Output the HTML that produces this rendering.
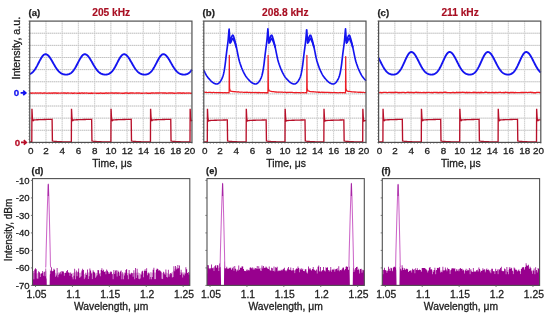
<!DOCTYPE html>
<html><head><meta charset="utf-8"><title>Figure</title>
<style>html,body{margin:0;padding:0;background:#fff;}body{width:550px;height:316px;overflow:hidden;}svg{display:block;}</style>
</head><body>
<svg width="550" height="316" viewBox="0 0 550 316">
<rect width="550" height="316" fill="#fff"/>
<line x1="45.97" y1="21.1" x2="45.97" y2="142.4" stroke="#ebebeb" stroke-width="1.3"/><line x1="45.97" y1="21.1" x2="45.97" y2="142.4" stroke="#d0d0d0" stroke-width="1" stroke-dasharray="1 1"/><line x1="62.19" y1="21.1" x2="62.19" y2="142.4" stroke="#ebebeb" stroke-width="1.3"/><line x1="62.19" y1="21.1" x2="62.19" y2="142.4" stroke="#d0d0d0" stroke-width="1" stroke-dasharray="1 1"/><line x1="78.41" y1="21.1" x2="78.41" y2="142.4" stroke="#ebebeb" stroke-width="1.3"/><line x1="78.41" y1="21.1" x2="78.41" y2="142.4" stroke="#d0d0d0" stroke-width="1" stroke-dasharray="1 1"/><line x1="94.63" y1="21.1" x2="94.63" y2="142.4" stroke="#ebebeb" stroke-width="1.3"/><line x1="94.63" y1="21.1" x2="94.63" y2="142.4" stroke="#d0d0d0" stroke-width="1" stroke-dasharray="1 1"/><line x1="110.85" y1="21.1" x2="110.85" y2="142.4" stroke="#ebebeb" stroke-width="1.3"/><line x1="110.85" y1="21.1" x2="110.85" y2="142.4" stroke="#d0d0d0" stroke-width="1" stroke-dasharray="1 1"/><line x1="127.07" y1="21.1" x2="127.07" y2="142.4" stroke="#ebebeb" stroke-width="1.3"/><line x1="127.07" y1="21.1" x2="127.07" y2="142.4" stroke="#d0d0d0" stroke-width="1" stroke-dasharray="1 1"/><line x1="143.29" y1="21.1" x2="143.29" y2="142.4" stroke="#ebebeb" stroke-width="1.3"/><line x1="143.29" y1="21.1" x2="143.29" y2="142.4" stroke="#d0d0d0" stroke-width="1" stroke-dasharray="1 1"/><line x1="159.51" y1="21.1" x2="159.51" y2="142.4" stroke="#ebebeb" stroke-width="1.3"/><line x1="159.51" y1="21.1" x2="159.51" y2="142.4" stroke="#d0d0d0" stroke-width="1" stroke-dasharray="1 1"/><line x1="175.73" y1="21.1" x2="175.73" y2="142.4" stroke="#ebebeb" stroke-width="1.3"/><line x1="175.73" y1="21.1" x2="175.73" y2="142.4" stroke="#d0d0d0" stroke-width="1" stroke-dasharray="1 1"/><line x1="29.75" y1="33.23" x2="191.95" y2="33.23" stroke="#eeeeee" stroke-width="1"/><line x1="29.75" y1="33.23" x2="191.95" y2="33.23" stroke="#b2b2b2" stroke-width="1" stroke-dasharray="1 1"/><line x1="29.75" y1="45.36" x2="191.95" y2="45.36" stroke="#eeeeee" stroke-width="1"/><line x1="29.75" y1="45.36" x2="191.95" y2="45.36" stroke="#b2b2b2" stroke-width="1" stroke-dasharray="1 1"/><line x1="29.75" y1="57.49" x2="191.95" y2="57.49" stroke="#eeeeee" stroke-width="1"/><line x1="29.75" y1="57.49" x2="191.95" y2="57.49" stroke="#b2b2b2" stroke-width="1" stroke-dasharray="1 1"/><line x1="29.75" y1="69.62" x2="191.95" y2="69.62" stroke="#eeeeee" stroke-width="1"/><line x1="29.75" y1="69.62" x2="191.95" y2="69.62" stroke="#b2b2b2" stroke-width="1" stroke-dasharray="1 1"/><line x1="29.75" y1="81.75" x2="191.95" y2="81.75" stroke="#eeeeee" stroke-width="1"/><line x1="29.75" y1="81.75" x2="191.95" y2="81.75" stroke="#b2b2b2" stroke-width="1" stroke-dasharray="1 1"/><line x1="29.75" y1="93.88" x2="191.95" y2="93.88" stroke="#eeeeee" stroke-width="1"/><line x1="29.75" y1="93.88" x2="191.95" y2="93.88" stroke="#b2b2b2" stroke-width="1" stroke-dasharray="1 1"/><line x1="29.75" y1="106.01" x2="191.95" y2="106.01" stroke="#eeeeee" stroke-width="1"/><line x1="29.75" y1="106.01" x2="191.95" y2="106.01" stroke="#b2b2b2" stroke-width="1" stroke-dasharray="1 1"/><line x1="29.75" y1="118.14" x2="191.95" y2="118.14" stroke="#eeeeee" stroke-width="1"/><line x1="29.75" y1="118.14" x2="191.95" y2="118.14" stroke="#b2b2b2" stroke-width="1" stroke-dasharray="1 1"/><line x1="29.75" y1="130.27" x2="191.95" y2="130.27" stroke="#eeeeee" stroke-width="1"/><line x1="29.75" y1="130.27" x2="191.95" y2="130.27" stroke="#b2b2b2" stroke-width="1" stroke-dasharray="1 1"/>
<path d="M29.75 142.4v1.3M32.99 142.4v1.3M36.24 142.4v1.3M39.48 142.4v1.3M42.73 142.4v1.3M45.97 142.4v1.3M49.21 142.4v1.3M52.46 142.4v1.3M55.7 142.4v1.3M58.95 142.4v1.3M62.19 142.4v1.3M65.43 142.4v1.3M68.68 142.4v1.3M71.92 142.4v1.3M75.17 142.4v1.3M78.41 142.4v1.3M81.65 142.4v1.3M84.9 142.4v1.3M88.14 142.4v1.3M91.39 142.4v1.3M94.63 142.4v1.3M97.87 142.4v1.3M101.12 142.4v1.3M104.36 142.4v1.3M107.61 142.4v1.3M110.85 142.4v1.3M114.09 142.4v1.3M117.34 142.4v1.3M120.58 142.4v1.3M123.83 142.4v1.3M127.07 142.4v1.3M130.31 142.4v1.3M133.56 142.4v1.3M136.8 142.4v1.3M140.05 142.4v1.3M143.29 142.4v1.3M146.53 142.4v1.3M149.78 142.4v1.3M153.02 142.4v1.3M156.27 142.4v1.3M159.51 142.4v1.3M162.75 142.4v1.3M166 142.4v1.3M169.24 142.4v1.3M172.49 142.4v1.3M175.73 142.4v1.3M178.97 142.4v1.3M182.22 142.4v1.3M185.46 142.4v1.3M188.71 142.4v1.3M191.95 142.4v1.3M29.75 21.1h-1.3M29.75 24.13h-1.3M29.75 27.17h-1.3M29.75 30.2h-1.3M29.75 33.23h-1.3M29.75 36.26h-1.3M29.75 39.3h-1.3M29.75 42.33h-1.3M29.75 45.36h-1.3M29.75 48.39h-1.3M29.75 51.43h-1.3M29.75 54.46h-1.3M29.75 57.49h-1.3M29.75 60.52h-1.3M29.75 63.56h-1.3M29.75 66.59h-1.3M29.75 69.62h-1.3M29.75 72.65h-1.3M29.75 75.69h-1.3M29.75 78.72h-1.3M29.75 81.75h-1.3M29.75 84.78h-1.3M29.75 87.81h-1.3M29.75 90.85h-1.3M29.75 93.88h-1.3M29.75 96.91h-1.3M29.75 99.94h-1.3M29.75 102.98h-1.3M29.75 106.01h-1.3M29.75 109.04h-1.3M29.75 112.08h-1.3M29.75 115.11h-1.3M29.75 118.14h-1.3M29.75 121.17h-1.3M29.75 124.21h-1.3M29.75 127.24h-1.3M29.75 130.27h-1.3M29.75 133.3h-1.3M29.75 136.34h-1.3M29.75 139.37h-1.3M29.75 142.4h-1.3" stroke="#777" stroke-width="0.8" fill="none"/>
<polyline points="29.75,74.06 30.16,73.9 30.56,73.7 30.97,73.47 31.37,73.21 31.78,72.92 32.18,72.6 32.59,72.23 32.99,71.84 33.4,71.4 33.8,70.92 34.21,70.41 34.62,69.86 35.02,69.27 35.43,68.65 35.83,68 36.24,67.31 36.64,66.59 37.05,65.86 37.45,65.1 37.86,64.32 38.27,63.54 38.67,62.75 39.08,61.96 39.48,61.18 39.89,60.41 40.29,59.66 40.7,58.94 41.1,58.24 41.51,57.59 41.91,56.98 42.32,56.41 42.73,55.91 43.13,55.46 43.54,55.07 43.94,54.75 44.35,54.5 44.75,54.33 45.16,54.23 45.56,54.2 45.97,54.24 46.38,54.35 46.78,54.51 47.19,54.73 47.59,55.02 48,55.35 48.4,55.74 48.81,56.19 49.21,56.67 49.62,57.2 50.02,57.77 50.43,58.38 50.84,59.01 51.24,59.67 51.65,60.35 52.05,61.05 52.46,61.76 52.86,62.47 53.27,63.19 53.67,63.9 54.08,64.61 54.49,65.31 54.89,65.99 55.3,66.66 55.7,67.31 56.11,67.93 56.51,68.53 56.92,69.1 57.32,69.65 57.73,70.16 58.14,70.64 58.54,71.1 58.95,71.52 59.35,71.91 59.76,72.26 60.16,72.59 60.57,72.89 60.97,73.16 61.38,73.4 61.78,73.61 62.19,73.8 62.6,73.97 63,74.12 63.41,74.24 63.81,74.34 64.22,74.43 64.62,74.49 65.03,74.55 65.43,74.58 65.84,74.6 66.25,74.6 66.65,74.58 67.06,74.55 67.46,74.49 67.87,74.42 68.27,74.32 68.68,74.2 69.08,74.05 69.49,73.88 69.89,73.68 70.3,73.45 70.71,73.19 71.11,72.9 71.52,72.57 71.92,72.2 72.33,71.8 72.73,71.36 73.14,70.88 73.54,70.37 73.95,69.81 74.35,69.22 74.76,68.6 75.17,67.94 75.57,67.25 75.98,66.53 76.38,65.79 76.79,65.03 77.19,64.26 77.6,63.48 78,62.69 78.41,61.9 78.82,61.12 79.22,60.35 79.63,59.6 80.03,58.88 80.44,58.19 80.84,57.54 81.25,56.93 81.65,56.37 82.06,55.87 82.47,55.42 82.87,55.04 83.28,54.73 83.68,54.49 84.09,54.32 84.49,54.22 84.9,54.2 85.3,54.25 85.71,54.36 86.11,54.53 86.52,54.75 86.93,55.04 87.33,55.38 87.74,55.78 88.14,56.22 88.55,56.72 88.95,57.25 89.36,57.82 89.76,58.43 90.17,59.07 90.58,59.73 90.98,60.41 91.39,61.11 91.79,61.81 92.2,62.53 92.6,63.25 93.01,63.96 93.41,64.67 93.82,65.36 94.22,66.05 94.63,66.71 95.04,67.36 95.44,67.98 95.85,68.58 96.25,69.15 96.66,69.69 97.06,70.2 97.47,70.68 97.87,71.13 98.28,71.55 98.68,71.94 99.09,72.29 99.5,72.62 99.9,72.91 100.31,73.18 100.71,73.42 101.12,73.63 101.52,73.82 101.93,73.98 102.33,74.13 102.74,74.25 103.15,74.35 103.55,74.43 103.96,74.5 104.36,74.55 104.77,74.58 105.17,74.6 105.58,74.6 105.98,74.58 106.39,74.54 106.79,74.49 107.2,74.41 107.61,74.31 108.01,74.19 108.42,74.04 108.82,73.86 109.23,73.66 109.63,73.43 110.04,73.17 110.44,72.87 110.85,72.54 111.26,72.17 111.66,71.77 112.07,71.32 112.47,70.84 112.88,70.32 113.28,69.77 113.69,69.17 114.09,68.54 114.5,67.88 114.91,67.19 115.31,66.47 115.72,65.73 116.12,64.97 116.53,64.2 116.93,63.41 117.34,62.62 117.74,61.83 118.15,61.05 118.55,60.29 118.96,59.54 119.37,58.82 119.77,58.13 120.18,57.48 120.58,56.88 120.99,56.33 121.39,55.83 121.8,55.39 122.2,55.01 122.61,54.71 123.02,54.47 123.42,54.31 123.83,54.22 124.23,54.2 124.64,54.25 125.04,54.37 125.45,54.54 125.85,54.78 126.26,55.07 126.66,55.41 127.07,55.81 127.48,56.26 127.88,56.76 128.29,57.3 128.69,57.87 129.1,58.48 129.5,59.12 129.91,59.78 130.31,60.47 130.72,61.16 131.12,61.87 131.53,62.59 131.94,63.3 132.34,64.02 132.75,64.73 133.15,65.42 133.56,66.1 133.96,66.77 134.37,67.41 134.77,68.03 135.18,68.63 135.59,69.2 135.99,69.73 136.4,70.24 136.8,70.72 137.21,71.17 137.61,71.58 138.02,71.97 138.42,72.32 138.83,72.64 139.24,72.93 139.64,73.2 140.05,73.44 140.45,73.65 140.86,73.83 141.26,74 141.67,74.14 142.07,74.26 142.48,74.36 142.88,74.44 143.29,74.5 143.7,74.55 144.1,74.58 144.51,74.6 144.91,74.6 145.32,74.58 145.72,74.54 146.13,74.48 146.53,74.4 146.94,74.3 147.34,74.17 147.75,74.03 148.16,73.85 148.56,73.64 148.97,73.41 149.37,73.14 149.78,72.84 150.18,72.51 150.59,72.14 150.99,71.73 151.4,71.29 151.81,70.8 152.21,70.28 152.62,69.72 153.02,69.12 153.43,68.49 153.83,67.83 154.24,67.13 154.64,66.41 155.05,65.67 155.45,64.91 155.86,64.13 156.27,63.34 156.67,62.56 157.08,61.77 157.48,60.99 157.89,60.22 158.29,59.48 158.7,58.76 159.1,58.08 159.51,57.43 159.92,56.83 160.32,56.28 160.73,55.79 161.13,55.35 161.54,54.99 161.94,54.68 162.35,54.45 162.75,54.3 163.16,54.21 163.56,54.21 163.97,54.26 164.38,54.38 164.78,54.56 165.19,54.8 165.59,55.09 166,55.45 166.4,55.85 166.81,56.3 167.21,56.8 167.62,57.34 168.03,57.92 168.43,58.53 168.84,59.17 169.24,59.84 169.65,60.52 170.05,61.22 170.46,61.93 170.86,62.65 171.27,63.36 171.67,64.08 172.08,64.78 172.49,65.48 172.89,66.16 173.3,66.82 173.7,67.46 174.11,68.08 174.51,68.68 174.92,69.24 175.32,69.78 175.73,70.28 176.14,70.76 176.54,71.2 176.95,71.62 177.35,72 177.76,72.35 178.16,72.67 178.57,72.96 178.97,73.22 179.38,73.45 179.78,73.66 180.19,73.85 180.6,74.01 181,74.15 181.41,74.27 181.81,74.37 182.22,74.45 182.62,74.51 183.03,74.55 183.43,74.58 183.84,74.6 184.25,74.6 184.65,74.58 185.06,74.54 185.46,74.47 185.87,74.39 186.27,74.29 186.68,74.16 187.08,74.01 187.49,73.83 187.89,73.63 188.3,73.39 188.71,73.12 189.11,72.82 189.52,72.48 189.92,72.11 190.33,71.7 190.73,71.25 191.14,70.76 191.54,70.23 191.95,69.67" fill="none" stroke="#1414f0" stroke-width="1.9" stroke-linejoin="round"/>
<polyline points="29.75,93.03 30.76,92.96 31.78,93.16 32.79,92.93 33.8,93.11 34.82,93.05 35.83,92.92 36.85,93.1 37.86,92.91 38.87,93.07 39.89,92.93 40.9,92.94 41.91,93.07 42.93,93.23 43.94,92.95 44.96,92.99 45.97,93.15 46.98,93.28 48,93.13 49.01,93.06 50.02,93.29 51.04,92.92 52.05,93.24 53.07,93.02 54.08,92.96 55.09,92.95 56.11,93.02 57.12,93.23 58.13,92.97 59.15,93.13 60.16,93.16 61.18,93.05 62.19,93.12 63.2,92.93 64.22,92.92 65.23,92.98 66.25,93.17 67.26,93.07 68.27,93.03 69.29,93.13 70.3,93.08 71.31,93.02 72.33,93.22 73.34,93.18 74.35,93 75.37,93.13 76.38,93.11 77.4,93.25 78.41,93.19 79.42,93.02 80.44,93.29 81.45,92.95 82.47,93.07 83.48,93.2 84.49,92.96 85.51,93.1 86.52,92.92 87.53,93.17 88.55,93.21 89.56,93.13 90.58,93.25 91.59,93.03 92.6,93.18 93.62,93.14 94.63,93.13 95.64,93.08 96.66,93.24 97.67,93.28 98.68,93.09 99.7,93.17 100.71,92.92 101.73,93.18 102.74,93.16 103.75,93.3 104.77,93.23 105.78,93.01 106.79,93.05 107.81,93.17 108.82,92.91 109.84,93.08 110.85,92.97 111.86,92.95 112.88,92.92 113.89,93.21 114.91,92.95 115.92,93 116.93,93.06 117.95,93.25 118.96,92.93 119.97,93.08 120.99,93.12 122,93.25 123.02,93.23 124.03,93.25 125.04,93.01 126.06,93.07 127.07,93.04 128.08,93.25 129.1,93.28 130.11,92.96 131.12,92.97 132.14,92.99 133.15,92.99 134.17,93.09 135.18,93.14 136.19,93.01 137.21,92.9 138.22,93.07 139.23,93.05 140.25,93.13 141.26,93.28 142.28,93.18 143.29,93.11 144.3,93.15 145.32,93.17 146.33,92.92 147.34,93.26 148.36,93.21 149.37,93.25 150.39,93.22 151.4,93.06 152.41,93.06 153.43,92.94 154.44,93.15 155.45,92.92 156.47,92.93 157.48,92.98 158.5,92.96 159.51,93.04 160.52,92.92 161.54,92.9 162.55,92.96 163.56,92.94 164.58,93.05 165.59,92.91 166.61,93.25 167.62,93.15 168.63,92.96 169.65,93 170.66,93.04 171.68,93.05 172.69,92.95 173.7,93.24 174.72,93.3 175.73,93.09 176.74,93.09 177.76,92.93 178.77,92.94 179.78,93.04 180.8,93.01 181.81,93.23 182.83,92.96 183.84,92.91 184.85,93.28 185.87,93.11 186.88,92.96 187.89,93.12 188.91,92.91 189.92,93.11 190.94,93.29 191.95,93.25" fill="none" stroke="#ec1c24" stroke-width="1.4"/>
<polyline points="29.75,141.94 30.75,141.95 31.75,141.96 31.8,141.96 31.95,108.8 32.4,117.5 32.9,121 33.9,119.99 34.9,119.88 35.9,119.82 36.9,119.77 37.9,119.73 38.9,119.7 39.9,119.66 40.9,119.63 41.9,119.6 42.9,119.57 43.9,119.54 44.9,119.51 45.9,119.48 46.9,119.45 47.9,119.42 48.9,119.39 49.9,119.37 50.9,119.34 51.9,119.31 52.1,119.3 52.4,141 53.4,141.19 54.4,141.32 55.4,141.42 56.4,141.51 57.4,141.59 58.4,141.65 59.4,141.7 60.4,141.75 61.4,141.79 62.4,141.82 63.4,141.85 64.4,141.87 65.4,141.89 66.4,141.91 67.4,141.92 68.4,141.93 69.4,141.94 70.4,141.95 71.35,141.96 71.5,108.8 71.95,117.5 72.45,121 73.45,119.99 74.45,119.88 75.45,119.82 76.45,119.77 77.45,119.73 78.45,119.7 79.45,119.66 80.45,119.63 81.45,119.6 82.45,119.57 83.45,119.54 84.45,119.51 85.45,119.48 86.45,119.45 87.45,119.42 88.45,119.39 89.45,119.37 90.45,119.34 91.45,119.31 91.65,119.3 91.95,141 92.95,141.19 93.95,141.32 94.95,141.42 95.95,141.51 96.95,141.59 97.95,141.65 98.95,141.7 99.95,141.75 100.95,141.79 101.95,141.82 102.95,141.85 103.95,141.87 104.95,141.89 105.95,141.91 106.95,141.92 107.95,141.93 108.95,141.94 109.95,141.95 110.9,141.96 111.05,108.8 111.5,117.5 112,121 113,119.99 114,119.88 115,119.82 116,119.77 117,119.73 118,119.7 119,119.66 120,119.63 121,119.6 122,119.57 123,119.54 124,119.51 125,119.48 126,119.45 127,119.42 128,119.39 129,119.37 130,119.34 131,119.31 131.2,119.3 131.5,141 132.5,141.19 133.5,141.32 134.5,141.42 135.5,141.51 136.5,141.59 137.5,141.65 138.5,141.7 139.5,141.75 140.5,141.79 141.5,141.82 142.5,141.85 143.5,141.87 144.5,141.89 145.5,141.91 146.5,141.92 147.5,141.93 148.5,141.94 149.5,141.95 150.45,141.96 150.6,108.8 151.05,117.5 151.55,121 152.55,119.99 153.55,119.88 154.55,119.82 155.55,119.77 156.55,119.73 157.55,119.7 158.55,119.66 159.55,119.63 160.55,119.6 161.55,119.57 162.55,119.54 163.55,119.51 164.55,119.48 165.55,119.45 166.55,119.42 167.55,119.39 168.55,119.37 169.55,119.34 170.55,119.31 170.75,119.3 171.05,141 172.05,141.19 173.05,141.32 174.05,141.42 175.05,141.51 176.05,141.59 177.05,141.65 178.05,141.7 179.05,141.75 180.05,141.79 181.05,141.82 182.05,141.85 183.05,141.87 184.05,141.89 185.05,141.91 186.05,141.92 187.05,141.93 188.05,141.94 189.05,141.95 190,141.96 190.15,108.8 190.6,117.5 191.1,121 191.95,119.84" fill="none" stroke="#b8102a" stroke-width="1.35" stroke-linejoin="miter" stroke-miterlimit="2"/>
<rect x="29.75" y="21.1" width="162.2" height="121.3" fill="none" stroke="#505050" stroke-width="1.2"/>
<g font-family="'Liberation Sans', Arial, sans-serif" font-size="9.9" fill="#1e1e1e" stroke="#1e1e1e" stroke-width="0.3"><text x="30.65" y="154.4" text-anchor="middle">0</text><text x="46.07" y="154.4" text-anchor="middle">2</text><text x="62.29" y="154.4" text-anchor="middle">4</text><text x="78.51" y="154.4" text-anchor="middle">6</text><text x="94.73" y="154.4" text-anchor="middle">8</text><text x="110.95" y="154.4" text-anchor="middle">10</text><text x="127.17" y="154.4" text-anchor="middle">12</text><text x="143.39" y="154.4" text-anchor="middle">14</text><text x="159.61" y="154.4" text-anchor="middle">16</text><text x="175.83" y="154.4" text-anchor="middle">18</text><text x="189.75" y="154.4" text-anchor="middle">20</text></g>
<text x="112.05" y="166.7" text-anchor="middle" font-family="'Liberation Sans', Arial, sans-serif" font-size="10.4" fill="#1e1e1e" stroke="#1e1e1e" stroke-width="0.3">Time, &#956;s</text>
<text x="28.55" y="16.35" font-family="'Liberation Sans', Arial, sans-serif" font-size="9.6" font-weight="bold" fill="#1e1e1e" stroke="#1e1e1e" stroke-width="0.25">(a)</text>
<text x="111.25" y="16.1" text-anchor="middle" font-family="'Liberation Sans', Arial, sans-serif" font-size="10.2" font-weight="bold" fill="#a80e22" stroke="#a80e22" stroke-width="0.15">205 kHz</text>
<line x1="220.02" y1="21.1" x2="220.02" y2="142.4" stroke="#ebebeb" stroke-width="1.3"/><line x1="220.02" y1="21.1" x2="220.02" y2="142.4" stroke="#d0d0d0" stroke-width="1" stroke-dasharray="1 1"/><line x1="236.24" y1="21.1" x2="236.24" y2="142.4" stroke="#ebebeb" stroke-width="1.3"/><line x1="236.24" y1="21.1" x2="236.24" y2="142.4" stroke="#d0d0d0" stroke-width="1" stroke-dasharray="1 1"/><line x1="252.46" y1="21.1" x2="252.46" y2="142.4" stroke="#ebebeb" stroke-width="1.3"/><line x1="252.46" y1="21.1" x2="252.46" y2="142.4" stroke="#d0d0d0" stroke-width="1" stroke-dasharray="1 1"/><line x1="268.68" y1="21.1" x2="268.68" y2="142.4" stroke="#ebebeb" stroke-width="1.3"/><line x1="268.68" y1="21.1" x2="268.68" y2="142.4" stroke="#d0d0d0" stroke-width="1" stroke-dasharray="1 1"/><line x1="284.9" y1="21.1" x2="284.9" y2="142.4" stroke="#ebebeb" stroke-width="1.3"/><line x1="284.9" y1="21.1" x2="284.9" y2="142.4" stroke="#d0d0d0" stroke-width="1" stroke-dasharray="1 1"/><line x1="301.12" y1="21.1" x2="301.12" y2="142.4" stroke="#ebebeb" stroke-width="1.3"/><line x1="301.12" y1="21.1" x2="301.12" y2="142.4" stroke="#d0d0d0" stroke-width="1" stroke-dasharray="1 1"/><line x1="317.34" y1="21.1" x2="317.34" y2="142.4" stroke="#ebebeb" stroke-width="1.3"/><line x1="317.34" y1="21.1" x2="317.34" y2="142.4" stroke="#d0d0d0" stroke-width="1" stroke-dasharray="1 1"/><line x1="333.56" y1="21.1" x2="333.56" y2="142.4" stroke="#ebebeb" stroke-width="1.3"/><line x1="333.56" y1="21.1" x2="333.56" y2="142.4" stroke="#d0d0d0" stroke-width="1" stroke-dasharray="1 1"/><line x1="349.78" y1="21.1" x2="349.78" y2="142.4" stroke="#ebebeb" stroke-width="1.3"/><line x1="349.78" y1="21.1" x2="349.78" y2="142.4" stroke="#d0d0d0" stroke-width="1" stroke-dasharray="1 1"/><line x1="203.8" y1="33.23" x2="366" y2="33.23" stroke="#eeeeee" stroke-width="1"/><line x1="203.8" y1="33.23" x2="366" y2="33.23" stroke="#b2b2b2" stroke-width="1" stroke-dasharray="1 1"/><line x1="203.8" y1="45.36" x2="366" y2="45.36" stroke="#eeeeee" stroke-width="1"/><line x1="203.8" y1="45.36" x2="366" y2="45.36" stroke="#b2b2b2" stroke-width="1" stroke-dasharray="1 1"/><line x1="203.8" y1="57.49" x2="366" y2="57.49" stroke="#eeeeee" stroke-width="1"/><line x1="203.8" y1="57.49" x2="366" y2="57.49" stroke="#b2b2b2" stroke-width="1" stroke-dasharray="1 1"/><line x1="203.8" y1="69.62" x2="366" y2="69.62" stroke="#eeeeee" stroke-width="1"/><line x1="203.8" y1="69.62" x2="366" y2="69.62" stroke="#b2b2b2" stroke-width="1" stroke-dasharray="1 1"/><line x1="203.8" y1="81.75" x2="366" y2="81.75" stroke="#eeeeee" stroke-width="1"/><line x1="203.8" y1="81.75" x2="366" y2="81.75" stroke="#b2b2b2" stroke-width="1" stroke-dasharray="1 1"/><line x1="203.8" y1="93.88" x2="366" y2="93.88" stroke="#eeeeee" stroke-width="1"/><line x1="203.8" y1="93.88" x2="366" y2="93.88" stroke="#b2b2b2" stroke-width="1" stroke-dasharray="1 1"/><line x1="203.8" y1="106.01" x2="366" y2="106.01" stroke="#eeeeee" stroke-width="1"/><line x1="203.8" y1="106.01" x2="366" y2="106.01" stroke="#b2b2b2" stroke-width="1" stroke-dasharray="1 1"/><line x1="203.8" y1="118.14" x2="366" y2="118.14" stroke="#eeeeee" stroke-width="1"/><line x1="203.8" y1="118.14" x2="366" y2="118.14" stroke="#b2b2b2" stroke-width="1" stroke-dasharray="1 1"/><line x1="203.8" y1="130.27" x2="366" y2="130.27" stroke="#eeeeee" stroke-width="1"/><line x1="203.8" y1="130.27" x2="366" y2="130.27" stroke="#b2b2b2" stroke-width="1" stroke-dasharray="1 1"/>
<path d="M203.8 142.4v1.3M207.04 142.4v1.3M210.29 142.4v1.3M213.53 142.4v1.3M216.78 142.4v1.3M220.02 142.4v1.3M223.26 142.4v1.3M226.51 142.4v1.3M229.75 142.4v1.3M233 142.4v1.3M236.24 142.4v1.3M239.48 142.4v1.3M242.73 142.4v1.3M245.97 142.4v1.3M249.22 142.4v1.3M252.46 142.4v1.3M255.7 142.4v1.3M258.95 142.4v1.3M262.19 142.4v1.3M265.44 142.4v1.3M268.68 142.4v1.3M271.92 142.4v1.3M275.17 142.4v1.3M278.41 142.4v1.3M281.66 142.4v1.3M284.9 142.4v1.3M288.14 142.4v1.3M291.39 142.4v1.3M294.63 142.4v1.3M297.88 142.4v1.3M301.12 142.4v1.3M304.36 142.4v1.3M307.61 142.4v1.3M310.85 142.4v1.3M314.1 142.4v1.3M317.34 142.4v1.3M320.58 142.4v1.3M323.83 142.4v1.3M327.07 142.4v1.3M330.32 142.4v1.3M333.56 142.4v1.3M336.8 142.4v1.3M340.05 142.4v1.3M343.29 142.4v1.3M346.54 142.4v1.3M349.78 142.4v1.3M353.02 142.4v1.3M356.27 142.4v1.3M359.51 142.4v1.3M362.76 142.4v1.3M366 142.4v1.3M203.8 21.1h-1.3M203.8 24.13h-1.3M203.8 27.17h-1.3M203.8 30.2h-1.3M203.8 33.23h-1.3M203.8 36.26h-1.3M203.8 39.3h-1.3M203.8 42.33h-1.3M203.8 45.36h-1.3M203.8 48.39h-1.3M203.8 51.43h-1.3M203.8 54.46h-1.3M203.8 57.49h-1.3M203.8 60.52h-1.3M203.8 63.56h-1.3M203.8 66.59h-1.3M203.8 69.62h-1.3M203.8 72.65h-1.3M203.8 75.69h-1.3M203.8 78.72h-1.3M203.8 81.75h-1.3M203.8 84.78h-1.3M203.8 87.81h-1.3M203.8 90.85h-1.3M203.8 93.88h-1.3M203.8 96.91h-1.3M203.8 99.94h-1.3M203.8 102.98h-1.3M203.8 106.01h-1.3M203.8 109.04h-1.3M203.8 112.08h-1.3M203.8 115.11h-1.3M203.8 118.14h-1.3M203.8 121.17h-1.3M203.8 124.21h-1.3M203.8 127.24h-1.3M203.8 130.27h-1.3M203.8 133.3h-1.3M203.8 136.34h-1.3M203.8 139.37h-1.3M203.8 142.4h-1.3" stroke="#777" stroke-width="0.8" fill="none"/>
<polyline points="203.8,70.11 204,70.56 204.21,70.99 204.41,71.42 204.61,71.85 204.81,72.27 205.02,72.68 205.22,73.09 205.42,73.49 205.62,73.88 205.83,74.26 206.03,74.63 206.23,74.99 206.44,75.34 206.64,75.67 206.84,75.99 207.04,76.29 207.25,76.58 207.45,76.86 207.65,77.13 207.86,77.4 208.06,77.65 208.26,77.9 208.46,78.14 208.67,78.38 208.87,78.61 209.07,78.84 209.27,79.06 209.48,79.29 209.68,79.51 209.88,79.73 210.09,79.95 210.29,80.16 210.49,80.38 210.69,80.6 210.9,80.81 211.1,81.02 211.3,81.22 211.5,81.42 211.71,81.61 211.91,81.79 212.11,81.97 212.32,82.14 212.52,82.3 212.72,82.44 212.92,82.58 213.13,82.71 213.33,82.84 213.53,82.96 213.73,83.08 213.94,83.19 214.14,83.29 214.34,83.39 214.55,83.49 214.75,83.57 214.95,83.65 215.15,83.73 215.36,83.79 215.56,83.85 215.76,83.9 215.97,83.94 216.17,83.97 216.37,83.99 216.57,84.01 216.78,84 216.98,83.98 217.18,83.95 217.38,83.9 217.59,83.84 217.79,83.76 217.99,83.66 218.2,83.55 218.4,83.43 218.6,83.28 218.8,83.12 219.01,82.95 219.21,82.76 219.41,82.56 219.61,82.34 219.82,82.11 220.02,81.86 220.22,81.6 220.43,81.32 220.63,81.02 220.83,80.7 221.03,80.36 221.24,80 221.44,79.62 221.64,79.22 221.84,78.81 222.05,78.38 222.25,77.92 222.45,77.43 222.66,76.9 222.86,76.32 223.06,75.69 223.26,74.99 223.47,74.23 223.67,73.39 223.87,72.44 224.08,71.4 224.28,70.28 224.48,69.07 224.68,67.79 224.89,66.44 225.09,65 225.29,63.42 225.49,61.74 225.7,59.99 225.9,58.21 226.1,56.43 226.31,54.69 226.51,53.04 226.71,51.46 226.91,49.92 227.12,48.42 227.32,46.9 227.52,45.36 227.72,43.76 227.93,42.07 228.13,40.25 228.33,38.06 228.54,35.63 228.74,33.14 228.94,30.49 229.14,29.1 229.35,32.34 229.55,35.49 229.75,38.53 229.95,40.36 230.16,40.5 230.36,40.17 230.56,39.68 230.77,39.27 230.97,38.75 231.17,38.16 231.37,37.54 231.58,36.98 231.78,36.5 231.98,36.03 232.19,35.64 232.39,35.36 232.59,35.22 232.79,35.18 233,35.28 233.2,35.51 233.4,35.91 233.6,36.43 233.81,37.04 234.01,37.7 234.21,38.38 234.42,39.06 234.62,39.79 234.82,40.57 235.02,41.39 235.23,42.24 235.43,43.1 235.63,43.96 235.83,44.84 236.04,45.73 236.24,46.64 236.44,47.55 236.65,48.48 236.85,49.43 237.05,50.42 237.25,51.42 237.46,52.44 237.66,53.47 237.86,54.49 238.06,55.49 238.27,56.48 238.47,57.43 238.67,58.34 238.88,59.2 239.08,60 239.28,60.77 239.48,61.49 239.69,62.17 239.89,62.83 240.09,63.46 240.3,64.06 240.5,64.66 240.7,65.24 240.9,65.81 241.11,66.38 241.31,66.94 241.51,67.48 241.71,68.01 241.92,68.51 242.12,69 242.32,69.48 242.53,69.94 242.73,70.39 242.93,70.83 243.13,71.27 243.34,71.69 243.54,72.11 243.74,72.53 243.94,72.94 244.15,73.34 244.35,73.74 244.55,74.12 244.76,74.5 244.96,74.86 245.16,75.21 245.36,75.55 245.57,75.87 245.77,76.18 245.97,76.47 246.17,76.76 246.38,77.04 246.58,77.3 246.78,77.56 246.99,77.81 247.19,78.06 247.39,78.29 247.59,78.53 247.8,78.76 248,78.98 248.2,79.21 248.41,79.43 248.61,79.65 248.81,79.87 249.01,80.08 249.22,80.3 249.42,80.52 249.62,80.73 249.82,80.94 250.03,81.14 250.23,81.34 250.43,81.54 250.64,81.72 250.84,81.9 251.04,82.08 251.24,82.24 251.45,82.39 251.65,82.53 251.85,82.67 252.05,82.79 252.26,82.92 252.46,83.03 252.66,83.15 252.87,83.25 253.07,83.36 253.27,83.45 253.47,83.54 253.68,83.63 253.88,83.7 254.08,83.77 254.28,83.83 254.49,83.88 254.69,83.93 254.89,83.96 255.1,83.99 255.3,84 255.5,84.01 255.7,83.99 255.91,83.96 256.11,83.92 256.31,83.86 256.51,83.79 256.72,83.7 256.92,83.6 257.12,83.47 257.33,83.34 257.53,83.19 257.73,83.02 257.93,82.83 258.14,82.64 258.34,82.42 258.54,82.2 258.75,81.96 258.95,81.7 259.15,81.42 259.35,81.13 259.56,80.82 259.76,80.49 259.96,80.14 260.16,79.76 260.37,79.37 260.57,78.97 260.77,78.54 260.98,78.1 261.18,77.62 261.38,77.1 261.58,76.54 261.79,75.93 261.99,75.26 262.19,74.52 262.39,73.71 262.6,72.8 262.8,71.8 263,70.7 263.21,69.53 263.41,68.27 263.61,66.95 263.81,65.55 264.02,64.02 264.22,62.37 264.42,60.64 264.62,58.86 264.83,57.08 265.03,55.32 265.23,53.64 265.44,52.03 265.64,50.49 265.84,48.97 266.04,47.46 266.25,45.93 266.45,44.36 266.65,42.7 266.86,40.95 267.06,38.91 267.26,36.54 267.46,34.05 267.67,31.47 267.87,28.81 268.07,31.15 268.27,34.37 268.48,37.41 268.68,40.13 268.88,40.52 269.09,40.32 269.29,39.86 269.49,39.42 269.69,38.95 269.9,38.38 270.1,37.77 270.3,37.18 270.5,36.67 270.71,36.2 270.91,35.77 271.11,35.44 271.32,35.26 271.52,35.18 271.72,35.23 271.92,35.41 272.13,35.75 272.33,36.23 272.53,36.81 272.74,37.45 272.94,38.13 273.14,38.8 273.34,39.52 273.55,40.28 273.75,41.08 273.95,41.92 274.15,42.78 274.36,43.64 274.56,44.52 274.76,45.4 274.97,46.3 275.17,47.21 275.37,48.14 275.57,49.08 275.78,50.05 275.98,51.05 276.18,52.07 276.38,53.09 276.59,54.11 276.79,55.12 276.99,56.12 277.2,57.08 277.4,58.01 277.6,58.89 277.8,59.71 278.01,60.49 278.21,61.22 278.41,61.92 278.61,62.59 278.82,63.23 279.02,63.84 279.22,64.44 279.43,65.02 279.63,65.6 279.83,66.17 280.03,66.73 280.24,67.28 280.44,67.82 280.64,68.33 280.85,68.82 281.05,69.3 281.25,69.77 281.45,70.23 281.66,70.67 281.86,71.11 282.06,71.53 282.26,71.96 282.47,72.38 282.67,72.79 282.87,73.2 283.08,73.59 283.28,73.98 283.48,74.36 283.68,74.73 283.89,75.09 284.09,75.43 284.29,75.75 284.49,76.07 284.7,76.37 284.9,76.66 285.1,76.93 285.31,77.2 285.51,77.47 285.71,77.72 285.91,77.97 286.12,78.21 286.32,78.44 286.52,78.67 286.72,78.9 286.93,79.12 287.13,79.34 287.33,79.57 287.54,79.78 287.74,80 287.94,80.22 288.14,80.44 288.35,80.65 288.55,80.86 288.75,81.07 288.96,81.27 289.16,81.47 289.36,81.66 289.56,81.84 289.77,82.01 289.97,82.18 290.17,82.34 290.37,82.48 290.58,82.62 290.78,82.75 290.98,82.87 291.19,82.99 291.39,83.11 291.59,83.22 291.79,83.32 292,83.42 292.2,83.51 292.4,83.6 292.6,83.67 292.81,83.75 293.01,83.81 293.21,83.86 293.42,83.91 293.62,83.95 293.82,83.98 294.02,84 294.23,84.01 294.43,84 294.63,83.98 294.83,83.94 295.04,83.89 295.24,83.82 295.44,83.74 295.65,83.64 295.85,83.52 296.05,83.39 296.25,83.24 296.46,83.08 296.66,82.9 296.86,82.71 297.06,82.5 297.27,82.28 297.47,82.05 297.67,81.8 297.88,81.53 298.08,81.24 298.28,80.94 298.48,80.61 298.69,80.27 298.89,79.9 299.09,79.52 299.3,79.12 299.5,78.7 299.7,78.26 299.9,77.8 300.11,77.29 300.31,76.75 300.51,76.16 300.71,75.51 300.92,74.8 301.12,74.02 301.32,73.15 301.53,72.18 301.73,71.12 301.93,69.97 302.13,68.74 302.34,67.44 302.54,66.07 302.74,64.6 302.94,62.99 303.15,61.29 303.35,59.52 303.55,57.74 303.76,55.97 303.96,54.25 304.16,52.61 304.36,51.05 304.57,49.53 304.77,48.02 304.97,46.5 305.18,44.94 305.38,43.32 305.58,41.61 305.78,39.71 305.99,37.44 306.19,34.97 306.39,32.45 306.59,29.79 306.8,29.95 307,33.2 307.2,36.29 307.41,39.33 307.61,40.46 307.81,40.44 308.01,40.04 308.22,39.56 308.42,39.14 308.62,38.6 308.82,37.99 309.03,37.39 309.23,36.85 309.43,36.37 309.64,35.92 309.84,35.55 310.04,35.31 310.24,35.2 310.45,35.2 310.65,35.32 310.85,35.6 311.05,36.04 311.26,36.58 311.46,37.21 311.66,37.88 311.87,38.55 312.07,39.25 312.27,39.99 312.47,40.78 312.68,41.61 312.88,42.46 313.08,43.32 313.29,44.19 313.49,45.08 313.69,45.97 313.89,46.87 314.1,47.79 314.3,48.73 314.5,49.69 314.7,50.68 314.91,51.69 315.11,52.71 315.31,53.74 315.52,54.75 315.72,55.75 315.92,56.73 316.12,57.67 316.33,58.57 316.53,59.42 316.73,60.21 316.93,60.96 317.14,61.67 317.34,62.35 317.54,62.99 317.75,63.62 317.95,64.22 318.15,64.81 318.35,65.39 318.56,65.96 318.76,66.53 318.96,67.08 319.16,67.62 319.37,68.14 319.57,68.64 319.77,69.13 319.98,69.6 320.18,70.06 320.38,70.51 320.58,70.95 320.79,71.38 320.99,71.8 321.19,72.22 321.39,72.64 321.6,73.05 321.8,73.45 322,73.84 322.21,74.22 322.41,74.6 322.61,74.96 322.81,75.3 323.02,75.64 323.22,75.95 323.42,76.26 323.63,76.55 323.83,76.83 324.03,77.11 324.23,77.37 324.44,77.63 324.64,77.88 324.84,78.12 325.04,78.36 325.25,78.59 325.45,78.82 325.65,79.04 325.86,79.26 326.06,79.48 326.26,79.7 326.46,79.92 326.67,80.14 326.87,80.36 327.07,80.57 327.27,80.79 327.48,80.99 327.68,81.2 327.88,81.4 328.09,81.59 328.29,81.77 328.49,81.95 328.69,82.12 328.9,82.28 329.1,82.43 329.3,82.57 329.5,82.7 329.71,82.83 329.91,82.95 330.11,83.06 330.32,83.18 330.52,83.28 330.72,83.38 330.92,83.48 331.13,83.56 331.33,83.65 331.53,83.72 331.74,83.79 331.94,83.84 332.14,83.89 332.34,83.94 332.55,83.97 332.75,83.99 332.95,84 333.15,84 333.36,83.99 333.56,83.96 333.76,83.91 333.97,83.85 334.17,83.77 334.37,83.67 334.57,83.57 334.78,83.44 334.98,83.3 335.18,83.14 335.38,82.97 335.59,82.78 335.79,82.58 335.99,82.37 336.2,82.14 336.4,81.89 336.6,81.63 336.8,81.35 337.01,81.05 337.21,80.73 337.41,80.4 337.62,80.04 337.82,79.66 338.02,79.27 338.22,78.86 338.43,78.43 338.63,77.97 338.83,77.48 339.03,76.96 339.24,76.38 339.44,75.76 339.64,75.07 339.85,74.32 340.05,73.48 340.25,72.55 340.45,71.52 340.66,70.4 340.86,69.21 341.06,67.93 341.26,66.59 341.47,65.16 341.67,63.6 341.87,61.92 342.08,60.18 342.28,58.39 342.48,56.61 342.68,54.87 342.89,53.21 343.09,51.62 343.29,50.09 343.49,48.58 343.7,47.06 343.9,45.52 344.1,43.93 344.31,42.26 344.51,40.46 344.71,38.31 344.91,35.89 345.12,33.4 345.32,30.77 345.52,28.76 345.73,32 345.93,35.17 346.13,38.21 346.33,40.3 346.54,40.51 346.74,40.21 346.94,39.73 347.14,39.31 347.35,38.81 347.55,38.22 347.75,37.61 347.96,37.03 348.16,36.55 348.36,36.08 348.56,35.67 348.77,35.38 348.97,35.23 349.17,35.18 349.37,35.26 349.58,35.48 349.78,35.86 349.98,36.37 350.19,36.97 350.39,37.63 350.59,38.31 350.79,38.98 351,39.71 351.2,40.48 351.4,41.3 351.6,42.15 351.81,43 352.01,43.87 352.21,44.75 352.42,45.64 352.62,46.54 352.82,47.45 353.02,48.38 353.23,49.33 353.43,50.31 353.63,51.32 353.83,52.34 354.04,53.36 354.24,54.38 354.44,55.39 354.65,56.37 354.85,57.33 355.05,58.24 355.25,59.11 355.46,59.92 355.66,60.69 355.86,61.41 356.07,62.1 356.27,62.76 356.47,63.39 356.67,64 356.88,64.59 357.08,65.17 357.28,65.75 357.48,66.32 357.69,66.88 357.89,67.43 358.09,67.95 358.3,68.46 358.5,68.95 358.7,69.43 358.9,69.89 359.11,70.34 359.31,70.79 359.51,71.22 359.71,71.65 359.92,72.07 360.12,72.49 360.32,72.9 360.53,73.3 360.73,73.7 360.93,74.08 361.13,74.46 361.34,74.82 361.54,75.18 361.74,75.51 361.94,75.84 362.15,76.15 362.35,76.44 362.55,76.73 362.76,77.01 362.96,77.27 363.16,77.53 363.36,77.78 363.57,78.03 363.77,78.27 363.97,78.5 364.18,78.73 364.38,78.96 364.58,79.18 364.78,79.4 364.99,79.62 365.19,79.84 365.39,80.06 365.59,80.28 365.8,80.49 366,80.71" fill="none" stroke="#1414f0" stroke-width="1.65" stroke-linejoin="round"/>
<polyline points="229.35,38.5 229.95,43 230.95,42 231.95,39.5 232.95,38.3 233.95,40.3 235.25,43.5 236.45,47.5" fill="none" stroke="#1414f0" stroke-width="1.8" stroke-linejoin="round"/>
<polyline points="268.15,38.5 268.75,43 269.75,42 270.75,39.5 271.75,38.3 272.75,40.3 274.05,43.5 275.25,47.5" fill="none" stroke="#1414f0" stroke-width="1.8" stroke-linejoin="round"/>
<polyline points="306.95,38.5 307.55,43 308.55,42 309.55,39.5 310.55,38.3 311.55,40.3 312.85,43.5 314.05,47.5" fill="none" stroke="#1414f0" stroke-width="1.8" stroke-linejoin="round"/>
<polyline points="345.75,38.5 346.35,43 347.35,42 348.35,39.5 349.35,38.3 350.35,40.3 351.65,43.5 352.85,47.5" fill="none" stroke="#1414f0" stroke-width="1.8" stroke-linejoin="round"/>
<polyline points="203.8,92.3 204.12,92.14 204.45,92.19 204.77,92.13 205.1,92.38 205.42,92.3 205.75,92.41 206.07,92.24 206.4,92.21 206.72,92.45 207.04,92.53 207.37,92.49 207.69,92.48 208.02,92.5 208.34,92.48 208.67,92.28 208.99,92.41 209.31,92.35 209.64,92.23 209.96,92.24 210.29,92.35 210.61,92.35 210.94,92.53 211.26,92.64 211.59,92.45 211.91,92.65 212.23,92.68 212.56,92.67 212.88,92.44 213.21,92.39 213.53,92.4 213.86,92.4 214.18,92.41 214.51,92.58 214.83,92.7 215.15,92.68 215.48,92.54 215.8,92.62 216.13,92.68 216.45,92.4 216.78,92.63 217.1,92.74 217.42,92.69 217.75,92.69 218.07,92.58 218.4,92.47 218.72,92.72 219.05,92.54 219.37,92.73 219.7,92.8 220.02,92.58 220.34,92.58 220.67,92.8 220.99,92.72 221.32,92.5 221.64,92.49 221.97,92.5 222.29,92.81 222.62,92.77 222.94,92.51 223.26,92.79 223.59,92.85 223.91,92.72 224.24,92.61 224.56,92.69 224.89,92.52 225.21,92.48 225.53,92.87 225.86,92.74 226.18,92.69 226.51,92.86 226.83,92.66 227.16,92.84 227.48,92.82 227.81,92.58 228.13,92.6 228.45,92.62 228.78,92.6 229.1,92.74 229.1,93 229.3,55.3 229.6,88.3 230.1,90.2 229.43,90.47 229.75,90.68 230.08,90.69 230.4,91.12 230.73,90.99 231.05,91.13 231.37,91.26 231.7,91.46 232.02,91.33 232.35,91.59 232.67,91.47 233,91.53 233.32,91.58 233.64,91.42 233.97,91.62 234.29,91.56 234.62,91.52 234.94,91.87 235.27,91.65 235.59,91.8 235.92,91.93 236.24,91.88 236.56,91.82 236.89,91.92 237.21,91.95 237.54,92.07 237.86,91.82 238.19,92.02 238.51,91.91 238.84,91.94 239.16,92.16 239.48,92.07 239.81,92.11 240.13,92.21 240.46,92.29 240.78,92.11 241.11,92.2 241.43,92.17 241.75,92.19 242.08,92.27 242.4,92.19 242.73,92.24 243.05,92.23 243.38,92.43 243.7,92.34 244.03,92.43 244.35,92.46 244.67,92.2 245,92.33 245.32,92.5 245.65,92.47 245.97,92.2 246.3,92.2 246.62,92.34 246.95,92.2 247.27,92.28 247.59,92.22 247.92,92.47 248.24,92.53 248.57,92.58 248.89,92.29 249.22,92.52 249.54,92.51 249.86,92.31 250.19,92.62 250.51,92.66 250.84,92.37 251.16,92.67 251.49,92.45 251.81,92.49 252.14,92.7 252.46,92.65 252.78,92.38 253.11,92.5 253.43,92.54 253.76,92.47 254.08,92.42 254.41,92.48 254.73,92.64 255.06,92.37 255.38,92.59 255.7,92.55 256.03,92.38 256.35,92.52 256.68,92.64 257,92.6 257.33,92.42 257.65,92.8 257.97,92.72 258.3,92.8 258.62,92.46 258.95,92.53 259.27,92.44 259.6,92.74 259.92,92.54 260.25,92.49 260.57,92.61 260.89,92.81 261.22,92.77 261.54,92.55 261.87,92.51 262.19,92.82 262.52,92.69 262.84,92.74 263.17,92.5 263.49,92.49 263.81,92.75 264.14,92.65 264.46,92.51 264.79,92.86 265.11,92.74 265.44,92.81 265.76,92.52 266.08,92.83 266.41,92.52 266.73,92.84 267.06,92.68 267.38,92.64 267.71,92.72 268.03,92.88 267.9,93 268.1,55.3 268.4,88.3 268.9,90.2 268.36,90.53 268.68,90.61 269,90.9 269.33,90.89 269.65,90.93 269.98,91.04 270.3,91.07 270.63,91.2 270.95,91.31 271.28,91.36 271.6,91.6 271.92,91.46 272.25,91.58 272.57,91.5 272.9,91.6 273.22,91.51 273.55,91.63 273.87,91.57 274.19,91.88 274.52,91.84 274.84,91.72 275.17,91.86 275.49,92.07 275.82,91.76 276.14,92.07 276.47,91.94 276.79,91.98 277.11,92.14 277.44,91.98 277.76,92.04 278.09,92.13 278.41,92.27 278.74,92.03 279.06,92.24 279.39,92.21 279.71,92.2 280.03,92.12 280.36,92.11 280.68,92.01 281.01,92.05 281.33,92.04 281.66,92.33 281.98,92.14 282.3,92.12 282.63,92.1 282.95,92.42 283.28,92.44 283.6,92.37 283.93,92.23 284.25,92.22 284.58,92.25 284.9,92.33 285.22,92.22 285.55,92.35 285.87,92.28 286.2,92.57 286.52,92.59 286.85,92.43 287.17,92.31 287.5,92.61 287.82,92.36 288.14,92.38 288.47,92.25 288.79,92.41 289.12,92.46 289.44,92.47 289.77,92.36 290.09,92.49 290.41,92.3 290.74,92.41 291.06,92.34 291.39,92.48 291.71,92.34 292.04,92.34 292.36,92.46 292.69,92.43 293.01,92.58 293.33,92.56 293.66,92.66 293.98,92.63 294.31,92.66 294.63,92.73 294.96,92.54 295.28,92.52 295.61,92.78 295.93,92.45 296.25,92.69 296.58,92.66 296.9,92.43 297.23,92.75 297.55,92.77 297.88,92.67 298.2,92.72 298.52,92.75 298.85,92.49 299.17,92.65 299.5,92.64 299.82,92.78 300.15,92.77 300.47,92.78 300.8,92.69 301.12,92.82 301.44,92.73 301.77,92.74 302.09,92.56 302.42,92.48 302.74,92.53 303.07,92.62 303.39,92.52 303.72,92.82 304.04,92.71 304.36,92.74 304.69,92.74 305.01,92.76 305.34,92.69 305.66,92.5 305.99,92.82 306.31,92.8 306.63,92.71 306.7,93 306.9,55.3 307.2,88.3 307.7,90.2 306.96,90.54 307.28,90.74 307.61,90.64 307.93,91.02 308.26,90.93 308.58,90.95 308.91,91.11 309.23,91.37 309.55,91.23 309.88,91.5 310.2,91.65 310.53,91.51 310.85,91.51 311.18,91.59 311.5,91.71 311.83,91.78 312.15,91.76 312.47,91.8 312.8,91.6 313.12,91.66 313.45,91.73 313.77,91.95 314.1,91.8 314.42,91.93 314.74,91.73 315.07,91.77 315.39,91.88 315.72,92.06 316.04,92.09 316.37,92.1 316.69,91.97 317.02,92.07 317.34,92.07 317.66,92.09 317.99,91.96 318.31,92.29 318.64,92.03 318.96,92.36 319.29,92.35 319.61,92 319.94,92.19 320.26,92.35 320.58,92.42 320.91,92.23 321.23,92.17 321.56,92.16 321.88,92.46 322.21,92.18 322.53,92.34 322.85,92.18 323.18,92.34 323.5,92.52 323.83,92.21 324.15,92.49 324.48,92.38 324.8,92.54 325.13,92.47 325.45,92.29 325.77,92.57 326.1,92.41 326.42,92.24 326.75,92.24 327.07,92.44 327.4,92.43 327.72,92.38 328.05,92.33 328.37,92.41 328.69,92.41 329.02,92.63 329.34,92.3 329.67,92.61 329.99,92.65 330.32,92.37 330.64,92.7 330.96,92.62 331.29,92.7 331.61,92.46 331.94,92.5 332.26,92.51 332.59,92.76 332.91,92.6 333.24,92.52 333.56,92.55 333.88,92.49 334.21,92.41 334.53,92.43 334.86,92.73 335.18,92.52 335.51,92.78 335.83,92.51 336.16,92.52 336.48,92.62 336.8,92.5 337.13,92.58 337.45,92.81 337.78,92.79 338.1,92.76 338.43,92.69 338.75,92.81 339.07,92.83 339.4,92.67 339.72,92.74 340.05,92.48 340.37,92.76 340.7,92.65 341.02,92.77 341.35,92.73 341.67,92.59 341.99,92.5 342.32,92.85 342.64,92.53 342.97,92.67 343.29,92.63 343.62,92.61 343.94,92.79 344.27,92.89 344.59,92.6 344.91,92.76 345.24,92.62 345.56,92.73 345.5,93 345.7,56.5 346,88.3 346.5,90.2 345.89,90.55 346.21,90.6 346.54,90.72 346.86,90.85 347.18,91.23 347.51,91.16 347.83,91.12 348.16,91.47 348.48,91.57 348.81,91.41 349.13,91.34 349.46,91.41 349.78,91.41 350.1,91.55 350.43,91.49 350.75,91.59 351.08,91.63 351.4,91.78 351.73,91.94 352.05,91.91 352.38,91.81 352.7,91.83 353.02,91.9 353.35,91.86 353.67,91.87 354,91.78 354.32,91.89 354.65,92.19 354.97,91.87 355.29,92.04 355.62,92.11 355.94,92.22 356.27,91.98 356.59,92.02 356.92,92.02 357.24,92.1 357.57,92.13 357.89,92.35 358.21,92.32 358.54,92.35 358.86,92.02 359.19,92.04 359.51,92.32 359.84,92.41 360.16,92.25 360.49,92.31 360.81,92.09 361.13,92.26 361.46,92.48 361.78,92.45 362.11,92.48 362.43,92.53 362.76,92.26 363.08,92.21 363.4,92.24 363.73,92.4 364.05,92.47 364.38,92.58 364.7,92.5 365.03,92.48 365.35,92.54 365.68,92.42 366,92.47" fill="none" stroke="#ec1c24" stroke-width="1.2" stroke-linejoin="round"/>
<polyline points="203.8,141.92 204.8,141.93 205.8,141.94 206.8,141.95 207.3,141.96 207.45,108.8 207.9,117.5 208.4,121 209.4,120.58 210.4,120.48 211.4,120.42 212.4,120.37 213.4,120.33 214.4,120.29 215.4,120.26 216.4,120.23 217.4,120.2 218.4,120.17 219.4,120.14 220.4,120.11 221.4,120.08 222.4,120.05 223.4,120.02 224.4,119.99 225.4,119.96 226.4,119.93 227.3,119.9 227.6,141 228.6,141.19 229.6,141.32 230.6,141.42 231.6,141.51 232.6,141.59 233.6,141.65 234.6,141.7 235.6,141.75 236.6,141.79 237.6,141.82 238.6,141.85 239.6,141.87 240.6,141.89 241.6,141.91 242.6,141.92 243.6,141.93 244.6,141.94 245.6,141.95 246.15,141.96 246.3,108.8 246.75,117.5 247.25,121 248.25,120.58 249.25,120.48 250.25,120.42 251.25,120.37 252.25,120.33 253.25,120.29 254.25,120.26 255.25,120.23 256.25,120.2 257.25,120.17 258.25,120.14 259.25,120.11 260.25,120.08 261.25,120.05 262.25,120.02 263.25,119.99 264.25,119.96 265.25,119.93 266.15,119.9 266.45,141 267.45,141.19 268.45,141.32 269.45,141.42 270.45,141.51 271.45,141.59 272.45,141.65 273.45,141.7 274.45,141.75 275.45,141.79 276.45,141.82 277.45,141.85 278.45,141.87 279.45,141.89 280.45,141.91 281.45,141.92 282.45,141.93 283.45,141.94 284.45,141.95 285,141.96 285.15,108.8 285.6,117.5 286.1,121 287.1,120.58 288.1,120.48 289.1,120.42 290.1,120.37 291.1,120.33 292.1,120.29 293.1,120.26 294.1,120.23 295.1,120.2 296.1,120.17 297.1,120.14 298.1,120.11 299.1,120.08 300.1,120.05 301.1,120.02 302.1,119.99 303.1,119.96 304.1,119.93 305,119.9 305.3,141 306.3,141.19 307.3,141.32 308.3,141.42 309.3,141.51 310.3,141.59 311.3,141.65 312.3,141.7 313.3,141.75 314.3,141.79 315.3,141.82 316.3,141.85 317.3,141.87 318.3,141.89 319.3,141.91 320.3,141.92 321.3,141.93 322.3,141.94 323.3,141.95 323.85,141.96 324,108.8 324.45,117.5 324.95,121 325.95,120.58 326.95,120.48 327.95,120.42 328.95,120.37 329.95,120.33 330.95,120.29 331.95,120.26 332.95,120.23 333.95,120.2 334.95,120.17 335.95,120.14 336.95,120.11 337.95,120.08 338.95,120.05 339.95,120.02 340.95,119.99 341.95,119.96 342.95,119.93 343.85,119.9 344.15,141 345.15,141.19 346.15,141.32 347.15,141.42 348.15,141.51 349.15,141.59 350.15,141.65 351.15,141.7 352.15,141.75 353.15,141.79 354.15,141.82 355.15,141.85 356.15,141.87 357.15,141.89 358.15,141.91 359.15,141.92 360.15,141.93 361.15,141.94 362.15,141.95 362.7,141.96 362.85,108.8 363.3,117.5 363.8,121 364.8,120.58 365.8,120.48 366,120.4" fill="none" stroke="#b8102a" stroke-width="1.35" stroke-linejoin="miter" stroke-miterlimit="2"/>
<rect x="203.8" y="21.1" width="162.2" height="121.3" fill="none" stroke="#505050" stroke-width="1.2"/>
<g font-family="'Liberation Sans', Arial, sans-serif" font-size="9.9" fill="#1e1e1e" stroke="#1e1e1e" stroke-width="0.3"><text x="204.7" y="154.4" text-anchor="middle">0</text><text x="220.12" y="154.4" text-anchor="middle">2</text><text x="236.34" y="154.4" text-anchor="middle">4</text><text x="252.56" y="154.4" text-anchor="middle">6</text><text x="268.78" y="154.4" text-anchor="middle">8</text><text x="285" y="154.4" text-anchor="middle">10</text><text x="301.22" y="154.4" text-anchor="middle">12</text><text x="317.44" y="154.4" text-anchor="middle">14</text><text x="333.66" y="154.4" text-anchor="middle">16</text><text x="349.88" y="154.4" text-anchor="middle">18</text><text x="363.8" y="154.4" text-anchor="middle">20</text></g>
<text x="286.1" y="166.7" text-anchor="middle" font-family="'Liberation Sans', Arial, sans-serif" font-size="10.4" fill="#1e1e1e" stroke="#1e1e1e" stroke-width="0.3">Time, &#956;s</text>
<text x="202.6" y="16.35" font-family="'Liberation Sans', Arial, sans-serif" font-size="9.6" font-weight="bold" fill="#1e1e1e" stroke="#1e1e1e" stroke-width="0.25">(b)</text>
<text x="285.3" y="16.1" text-anchor="middle" font-family="'Liberation Sans', Arial, sans-serif" font-size="10.2" font-weight="bold" fill="#a80e22" stroke="#a80e22" stroke-width="0.15">208.8 kHz</text>
<line x1="394.82" y1="21.1" x2="394.82" y2="142.4" stroke="#ebebeb" stroke-width="1.3"/><line x1="394.82" y1="21.1" x2="394.82" y2="142.4" stroke="#d0d0d0" stroke-width="1" stroke-dasharray="1 1"/><line x1="411.04" y1="21.1" x2="411.04" y2="142.4" stroke="#ebebeb" stroke-width="1.3"/><line x1="411.04" y1="21.1" x2="411.04" y2="142.4" stroke="#d0d0d0" stroke-width="1" stroke-dasharray="1 1"/><line x1="427.26" y1="21.1" x2="427.26" y2="142.4" stroke="#ebebeb" stroke-width="1.3"/><line x1="427.26" y1="21.1" x2="427.26" y2="142.4" stroke="#d0d0d0" stroke-width="1" stroke-dasharray="1 1"/><line x1="443.48" y1="21.1" x2="443.48" y2="142.4" stroke="#ebebeb" stroke-width="1.3"/><line x1="443.48" y1="21.1" x2="443.48" y2="142.4" stroke="#d0d0d0" stroke-width="1" stroke-dasharray="1 1"/><line x1="459.7" y1="21.1" x2="459.7" y2="142.4" stroke="#ebebeb" stroke-width="1.3"/><line x1="459.7" y1="21.1" x2="459.7" y2="142.4" stroke="#d0d0d0" stroke-width="1" stroke-dasharray="1 1"/><line x1="475.92" y1="21.1" x2="475.92" y2="142.4" stroke="#ebebeb" stroke-width="1.3"/><line x1="475.92" y1="21.1" x2="475.92" y2="142.4" stroke="#d0d0d0" stroke-width="1" stroke-dasharray="1 1"/><line x1="492.14" y1="21.1" x2="492.14" y2="142.4" stroke="#ebebeb" stroke-width="1.3"/><line x1="492.14" y1="21.1" x2="492.14" y2="142.4" stroke="#d0d0d0" stroke-width="1" stroke-dasharray="1 1"/><line x1="508.36" y1="21.1" x2="508.36" y2="142.4" stroke="#ebebeb" stroke-width="1.3"/><line x1="508.36" y1="21.1" x2="508.36" y2="142.4" stroke="#d0d0d0" stroke-width="1" stroke-dasharray="1 1"/><line x1="524.58" y1="21.1" x2="524.58" y2="142.4" stroke="#ebebeb" stroke-width="1.3"/><line x1="524.58" y1="21.1" x2="524.58" y2="142.4" stroke="#d0d0d0" stroke-width="1" stroke-dasharray="1 1"/><line x1="378.6" y1="33.23" x2="540.8" y2="33.23" stroke="#eeeeee" stroke-width="1"/><line x1="378.6" y1="33.23" x2="540.8" y2="33.23" stroke="#b2b2b2" stroke-width="1" stroke-dasharray="1 1"/><line x1="378.6" y1="45.36" x2="540.8" y2="45.36" stroke="#eeeeee" stroke-width="1"/><line x1="378.6" y1="45.36" x2="540.8" y2="45.36" stroke="#b2b2b2" stroke-width="1" stroke-dasharray="1 1"/><line x1="378.6" y1="57.49" x2="540.8" y2="57.49" stroke="#eeeeee" stroke-width="1"/><line x1="378.6" y1="57.49" x2="540.8" y2="57.49" stroke="#b2b2b2" stroke-width="1" stroke-dasharray="1 1"/><line x1="378.6" y1="69.62" x2="540.8" y2="69.62" stroke="#eeeeee" stroke-width="1"/><line x1="378.6" y1="69.62" x2="540.8" y2="69.62" stroke="#b2b2b2" stroke-width="1" stroke-dasharray="1 1"/><line x1="378.6" y1="81.75" x2="540.8" y2="81.75" stroke="#eeeeee" stroke-width="1"/><line x1="378.6" y1="81.75" x2="540.8" y2="81.75" stroke="#b2b2b2" stroke-width="1" stroke-dasharray="1 1"/><line x1="378.6" y1="93.88" x2="540.8" y2="93.88" stroke="#eeeeee" stroke-width="1"/><line x1="378.6" y1="93.88" x2="540.8" y2="93.88" stroke="#b2b2b2" stroke-width="1" stroke-dasharray="1 1"/><line x1="378.6" y1="106.01" x2="540.8" y2="106.01" stroke="#eeeeee" stroke-width="1"/><line x1="378.6" y1="106.01" x2="540.8" y2="106.01" stroke="#b2b2b2" stroke-width="1" stroke-dasharray="1 1"/><line x1="378.6" y1="118.14" x2="540.8" y2="118.14" stroke="#eeeeee" stroke-width="1"/><line x1="378.6" y1="118.14" x2="540.8" y2="118.14" stroke="#b2b2b2" stroke-width="1" stroke-dasharray="1 1"/><line x1="378.6" y1="130.27" x2="540.8" y2="130.27" stroke="#eeeeee" stroke-width="1"/><line x1="378.6" y1="130.27" x2="540.8" y2="130.27" stroke="#b2b2b2" stroke-width="1" stroke-dasharray="1 1"/>
<path d="M378.6 142.4v1.3M381.84 142.4v1.3M385.09 142.4v1.3M388.33 142.4v1.3M391.58 142.4v1.3M394.82 142.4v1.3M398.06 142.4v1.3M401.31 142.4v1.3M404.55 142.4v1.3M407.8 142.4v1.3M411.04 142.4v1.3M414.28 142.4v1.3M417.53 142.4v1.3M420.77 142.4v1.3M424.02 142.4v1.3M427.26 142.4v1.3M430.5 142.4v1.3M433.75 142.4v1.3M436.99 142.4v1.3M440.24 142.4v1.3M443.48 142.4v1.3M446.72 142.4v1.3M449.97 142.4v1.3M453.21 142.4v1.3M456.46 142.4v1.3M459.7 142.4v1.3M462.94 142.4v1.3M466.19 142.4v1.3M469.43 142.4v1.3M472.68 142.4v1.3M475.92 142.4v1.3M479.16 142.4v1.3M482.41 142.4v1.3M485.65 142.4v1.3M488.9 142.4v1.3M492.14 142.4v1.3M495.38 142.4v1.3M498.63 142.4v1.3M501.87 142.4v1.3M505.12 142.4v1.3M508.36 142.4v1.3M511.6 142.4v1.3M514.85 142.4v1.3M518.09 142.4v1.3M521.34 142.4v1.3M524.58 142.4v1.3M527.82 142.4v1.3M531.07 142.4v1.3M534.31 142.4v1.3M537.56 142.4v1.3M540.8 142.4v1.3M378.6 21.1h-1.3M378.6 24.13h-1.3M378.6 27.17h-1.3M378.6 30.2h-1.3M378.6 33.23h-1.3M378.6 36.26h-1.3M378.6 39.3h-1.3M378.6 42.33h-1.3M378.6 45.36h-1.3M378.6 48.39h-1.3M378.6 51.43h-1.3M378.6 54.46h-1.3M378.6 57.49h-1.3M378.6 60.52h-1.3M378.6 63.56h-1.3M378.6 66.59h-1.3M378.6 69.62h-1.3M378.6 72.65h-1.3M378.6 75.69h-1.3M378.6 78.72h-1.3M378.6 81.75h-1.3M378.6 84.78h-1.3M378.6 87.81h-1.3M378.6 90.85h-1.3M378.6 93.88h-1.3M378.6 96.91h-1.3M378.6 99.94h-1.3M378.6 102.98h-1.3M378.6 106.01h-1.3M378.6 109.04h-1.3M378.6 112.08h-1.3M378.6 115.11h-1.3M378.6 118.14h-1.3M378.6 121.17h-1.3M378.6 124.21h-1.3M378.6 127.24h-1.3M378.6 130.27h-1.3M378.6 133.3h-1.3M378.6 136.34h-1.3M378.6 139.37h-1.3M378.6 142.4h-1.3" stroke="#777" stroke-width="0.8" fill="none"/>
<polyline points="378.6,58.01 379.01,58.77 379.41,59.56 379.82,60.36 380.22,61.16 380.63,61.97 381.03,62.78 381.44,63.58 381.84,64.37 382.25,65.14 382.66,65.89 383.06,66.62 383.47,67.32 383.87,67.99 384.28,68.63 384.68,69.24 385.09,69.81 385.49,70.35 385.9,70.85 386.3,71.32 386.71,71.75 387.12,72.14 387.52,72.5 387.93,72.82 388.33,73.11 388.74,73.37 389.14,73.6 389.55,73.81 389.95,73.98 390.36,74.13 390.77,74.26 391.17,74.37 391.58,74.45 391.98,74.52 392.39,74.56 392.79,74.59 393.2,74.6 393.6,74.59 394.01,74.56 394.41,74.5 394.82,74.42 395.23,74.31 395.63,74.18 396.04,74.02 396.44,73.82 396.85,73.6 397.25,73.34 397.66,73.04 398.06,72.7 398.47,72.32 398.88,71.9 399.28,71.44 399.69,70.93 400.09,70.37 400.5,69.77 400.9,69.13 401.31,68.44 401.71,67.71 402.12,66.95 402.52,66.14 402.93,65.31 403.34,64.45 403.74,63.58 404.15,62.68 404.55,61.78 404.96,60.88 405.36,59.98 405.77,59.1 406.17,58.23 406.58,57.4 406.99,56.6 407.39,55.84 407.8,55.13 408.2,54.48 408.61,53.9 409.01,53.39 409.42,52.95 409.82,52.59 410.23,52.31 410.63,52.12 411.04,52.02 411.45,52 411.85,52.07 412.26,52.2 412.66,52.4 413.07,52.67 413.47,53.01 413.88,53.41 414.28,53.87 414.69,54.39 415.1,54.96 415.5,55.58 415.91,56.24 416.31,56.94 416.72,57.67 417.12,58.42 417.53,59.2 417.93,60 418.34,60.8 418.74,61.61 419.15,62.42 419.56,63.22 419.96,64.02 420.37,64.79 420.77,65.56 421.18,66.29 421.58,67.01 421.99,67.69 422.39,68.35 422.8,68.97 423.21,69.56 423.61,70.11 424.02,70.63 424.42,71.11 424.83,71.56 425.23,71.97 425.64,72.34 426.04,72.68 426.45,72.98 426.85,73.26 427.26,73.5 427.67,73.72 428.07,73.91 428.48,74.07 428.88,74.21 429.29,74.32 429.69,74.42 430.1,74.49 430.5,74.55 430.91,74.58 431.32,74.6 431.72,74.6 432.13,74.57 432.53,74.53 432.94,74.46 433.34,74.36 433.75,74.24 434.15,74.09 434.56,73.91 434.96,73.7 435.37,73.46 435.78,73.18 436.18,72.86 436.59,72.5 436.99,72.1 437.4,71.65 437.8,71.16 438.21,70.63 438.61,70.05 439.02,69.42 439.43,68.75 439.83,68.04 440.24,67.3 440.64,66.51 441.05,65.69 441.45,64.84 441.86,63.97 442.26,63.09 442.67,62.19 443.07,61.29 443.48,60.38 443.89,59.49 444.29,58.62 444.7,57.77 445.1,56.95 445.51,56.17 445.91,55.44 446.32,54.77 446.72,54.16 447.13,53.61 447.54,53.14 447.94,52.74 448.35,52.42 448.75,52.2 449.16,52.05 449.56,52 449.97,52.03 450.37,52.13 450.78,52.3 451.18,52.54 451.59,52.85 452,53.22 452.4,53.66 452.81,54.15 453.21,54.7 453.62,55.29 454.02,55.94 454.43,56.62 454.83,57.33 455.24,58.08 455.64,58.85 456.05,59.64 456.46,60.44 456.86,61.24 457.27,62.05 457.67,62.86 458.08,63.66 458.48,64.44 458.89,65.21 459.29,65.96 459.7,66.69 460.11,67.39 460.51,68.06 460.92,68.7 461.32,69.3 461.73,69.87 462.13,70.4 462.54,70.9 462.94,71.36 463.35,71.79 463.75,72.17 464.16,72.53 464.57,72.85 464.97,73.14 465.38,73.4 465.78,73.63 466.19,73.83 466.59,74 467,74.15 467.4,74.27 467.81,74.38 468.22,74.46 468.62,74.52 469.03,74.57 469.43,74.59 469.84,74.6 470.24,74.59 470.65,74.55 471.05,74.49 471.46,74.41 471.87,74.3 472.27,74.16 472.68,74 473.08,73.8 473.49,73.57 473.89,73.31 474.3,73.01 474.7,72.67 475.11,72.28 475.51,71.86 475.92,71.39 476.33,70.87 476.73,70.31 477.14,69.71 477.54,69.06 477.95,68.37 478.35,67.64 478.76,66.87 479.16,66.06 479.57,65.23 479.98,64.37 480.38,63.49 480.79,62.6 481.19,61.69 481.6,60.79 482,59.89 482.41,59.01 482.81,58.15 483.22,57.32 483.62,56.52 484.03,55.77 484.44,55.07 484.84,54.42 485.25,53.85 485.65,53.34 486.06,52.91 486.46,52.56 486.87,52.29 487.27,52.11 487.68,52.01 488.09,52.01 488.49,52.08 488.9,52.22 489.3,52.43 489.71,52.7 490.11,53.05 490.52,53.46 490.92,53.92 491.33,54.45 491.73,55.02 492.14,55.64 492.55,56.31 492.95,57.01 493.36,57.74 493.76,58.5 494.17,59.28 494.57,60.07 494.98,60.88 495.38,61.69 495.79,62.5 496.2,63.3 496.6,64.09 497.01,64.87 497.41,65.63 497.82,66.37 498.22,67.08 498.63,67.76 499.03,68.41 499.44,69.03 499.84,69.62 500.25,70.17 500.66,70.68 501.06,71.16 501.47,71.6 501.87,72 502.28,72.37 502.68,72.71 503.09,73.01 503.49,73.28 503.9,73.53 504.31,73.74 504.71,73.92 505.12,74.08 505.52,74.22 505.93,74.33 506.33,74.43 506.74,74.5 507.14,74.55 507.55,74.58 507.95,74.6 508.36,74.6 508.77,74.57 509.17,74.52 509.58,74.45 509.98,74.35 510.39,74.23 510.79,74.08 511.2,73.89 511.6,73.68 512.01,73.43 512.41,73.15 512.82,72.82 513.23,72.46 513.63,72.06 514.04,71.61 514.44,71.11 514.85,70.57 515.25,69.99 515.66,69.36 516.06,68.69 516.47,67.97 516.88,67.22 517.28,66.43 517.69,65.61 518.09,64.76 518.5,63.89 518.9,63 519.31,62.1 519.71,61.2 520.12,60.3 520.52,59.41 520.93,58.53 521.34,57.69 521.74,56.87 522.15,56.1 522.55,55.38 522.96,54.71 523.36,54.1 523.77,53.56 524.17,53.09 524.58,52.7 524.99,52.4 525.39,52.18 525.8,52.04 526.2,52 526.61,52.04 527.01,52.14 527.42,52.32 527.82,52.57 528.23,52.88 528.63,53.26 529.04,53.7 529.45,54.2 529.85,54.75 530.26,55.36 530.66,56 531.07,56.69 531.47,57.4 531.88,58.15 532.28,58.92 532.69,59.71 533.1,60.51 533.5,61.32 533.91,62.13 534.31,62.94 534.72,63.74 535.12,64.52 535.53,65.29 535.93,66.04 536.34,66.76 536.75,67.46 537.15,68.12 537.56,68.76 537.96,69.36 538.37,69.92 538.77,70.45 539.18,70.95 539.58,71.4 539.99,71.82 540.39,72.21 540.8,72.56" fill="none" stroke="#1414f0" stroke-width="1.9" stroke-linejoin="round"/>
<polyline points="378.6,92.32 379.61,92.61 380.63,92.39 381.64,92.67 382.66,92.56 383.67,92.42 384.68,92.35 385.7,92.4 386.71,92.55 387.72,92.58 388.74,92.34 389.75,92.33 390.77,92.51 391.78,92.53 392.79,92.46 393.81,92.39 394.82,92.54 395.83,92.3 396.85,92.42 397.86,92.48 398.88,92.68 399.89,92.56 400.9,92.65 401.92,92.49 402.93,92.39 403.94,92.4 404.96,92.68 405.97,92.58 406.99,92.42 408,92.31 409.01,92.5 410.03,92.57 411.04,92.47 412.05,92.4 413.07,92.57 414.08,92.67 415.1,92.39 416.11,92.31 417.12,92.44 418.14,92.47 419.15,92.57 420.16,92.38 421.18,92.62 422.19,92.6 423.21,92.5 424.22,92.38 425.23,92.69 426.25,92.42 427.26,92.63 428.27,92.39 429.29,92.39 430.3,92.6 431.31,92.42 432.33,92.68 433.34,92.5 434.36,92.37 435.37,92.39 436.38,92.47 437.4,92.57 438.41,92.68 439.43,92.36 440.44,92.46 441.45,92.39 442.47,92.69 443.48,92.36 444.49,92.32 445.51,92.32 446.52,92.46 447.54,92.66 448.55,92.65 449.56,92.59 450.58,92.7 451.59,92.67 452.6,92.43 453.62,92.37 454.63,92.67 455.64,92.6 456.66,92.31 457.67,92.57 458.69,92.45 459.7,92.45 460.71,92.43 461.73,92.37 462.74,92.3 463.75,92.41 464.77,92.44 465.78,92.68 466.8,92.35 467.81,92.69 468.82,92.38 469.84,92.44 470.85,92.63 471.87,92.63 472.88,92.47 473.89,92.32 474.91,92.49 475.92,92.45 476.93,92.67 477.95,92.38 478.96,92.45 479.98,92.66 480.99,92.31 482,92.46 483.02,92.62 484.03,92.61 485.04,92.32 486.06,92.31 487.07,92.33 488.09,92.67 489.1,92.4 490.11,92.6 491.13,92.66 492.14,92.44 493.15,92.41 494.17,92.68 495.18,92.55 496.19,92.4 497.21,92.59 498.22,92.43 499.24,92.41 500.25,92.3 501.26,92.6 502.28,92.67 503.29,92.55 504.31,92.68 505.32,92.31 506.33,92.39 507.35,92.49 508.36,92.68 509.37,92.68 510.39,92.45 511.4,92.4 512.41,92.47 513.43,92.5 514.44,92.67 515.46,92.37 516.47,92.62 517.48,92.6 518.5,92.63 519.51,92.61 520.53,92.54 521.54,92.43 522.55,92.43 523.57,92.44 524.58,92.61 525.59,92.33 526.61,92.38 527.62,92.6 528.63,92.4 529.65,92.33 530.66,92.31 531.68,92.52 532.69,92.43 533.7,92.69 534.72,92.65 535.73,92.7 536.75,92.41 537.76,92.33 538.77,92.34 539.79,92.5 540.8,92.58" fill="none" stroke="#ec1c24" stroke-width="1.4"/>
<polyline points="378.6,141.91 379.6,141.93 380.6,141.94 381.6,141.95 382.6,141.96 382.9,141.96 383.05,108.8 383.5,117.5 384,121 385,119.98 386,119.88 387,119.81 388,119.76 389,119.72 390,119.69 391,119.65 392,119.62 393,119.59 394,119.56 395,119.53 396,119.49 397,119.46 398,119.43 399,119.4 400,119.37 401,119.34 402,119.31 402.3,119.3 402.6,141 403.6,141.19 404.6,141.32 405.6,141.42 406.6,141.51 407.6,141.59 408.6,141.65 409.6,141.7 410.6,141.75 411.6,141.79 412.6,141.82 413.6,141.85 414.6,141.87 415.6,141.89 416.6,141.91 417.6,141.92 418.6,141.93 419.6,141.94 420.6,141.95 421.3,141.96 421.45,108.8 421.9,117.5 422.4,121 423.4,119.98 424.4,119.88 425.4,119.81 426.4,119.76 427.4,119.72 428.4,119.69 429.4,119.65 430.4,119.62 431.4,119.59 432.4,119.56 433.4,119.53 434.4,119.49 435.4,119.46 436.4,119.43 437.4,119.4 438.4,119.37 439.4,119.34 440.4,119.31 440.7,119.3 441,141 442,141.19 443,141.32 444,141.42 445,141.51 446,141.59 447,141.65 448,141.7 449,141.75 450,141.79 451,141.82 452,141.85 453,141.87 454,141.89 455,141.91 456,141.92 457,141.93 458,141.94 459,141.95 459.7,141.96 459.85,108.8 460.3,117.5 460.8,121 461.8,119.98 462.8,119.88 463.8,119.81 464.8,119.76 465.8,119.72 466.8,119.69 467.8,119.65 468.8,119.62 469.8,119.59 470.8,119.56 471.8,119.53 472.8,119.49 473.8,119.46 474.8,119.43 475.8,119.4 476.8,119.37 477.8,119.34 478.8,119.31 479.1,119.3 479.4,141 480.4,141.19 481.4,141.32 482.4,141.42 483.4,141.51 484.4,141.59 485.4,141.65 486.4,141.7 487.4,141.75 488.4,141.79 489.4,141.82 490.4,141.85 491.4,141.87 492.4,141.89 493.4,141.91 494.4,141.92 495.4,141.93 496.4,141.94 497.4,141.95 498.1,141.96 498.25,108.8 498.7,117.5 499.2,121 500.2,119.98 501.2,119.88 502.2,119.81 503.2,119.76 504.2,119.72 505.2,119.69 506.2,119.65 507.2,119.62 508.2,119.59 509.2,119.56 510.2,119.53 511.2,119.49 512.2,119.46 513.2,119.43 514.2,119.4 515.2,119.37 516.2,119.34 517.2,119.31 517.5,119.3 517.8,141 518.8,141.19 519.8,141.32 520.8,141.42 521.8,141.51 522.8,141.59 523.8,141.65 524.8,141.7 525.8,141.75 526.8,141.79 527.8,141.82 528.8,141.85 529.8,141.87 530.8,141.89 531.8,141.91 532.8,141.92 533.8,141.93 534.8,141.94 535.8,141.95 536.5,141.96 536.65,108.8 537.1,117.5 537.6,121 538.6,119.98 539.6,119.88 540.6,119.81 540.8,119.77" fill="none" stroke="#b8102a" stroke-width="1.35" stroke-linejoin="miter" stroke-miterlimit="2"/>
<rect x="378.6" y="21.1" width="162.2" height="121.3" fill="none" stroke="#505050" stroke-width="1.2"/>
<g font-family="'Liberation Sans', Arial, sans-serif" font-size="9.9" fill="#1e1e1e" stroke="#1e1e1e" stroke-width="0.3"><text x="379.5" y="154.4" text-anchor="middle">0</text><text x="394.92" y="154.4" text-anchor="middle">2</text><text x="411.14" y="154.4" text-anchor="middle">4</text><text x="427.36" y="154.4" text-anchor="middle">6</text><text x="443.58" y="154.4" text-anchor="middle">8</text><text x="459.8" y="154.4" text-anchor="middle">10</text><text x="476.02" y="154.4" text-anchor="middle">12</text><text x="492.24" y="154.4" text-anchor="middle">14</text><text x="508.46" y="154.4" text-anchor="middle">16</text><text x="524.68" y="154.4" text-anchor="middle">18</text><text x="538.6" y="154.4" text-anchor="middle">20</text></g>
<text x="460.9" y="166.7" text-anchor="middle" font-family="'Liberation Sans', Arial, sans-serif" font-size="10.4" fill="#1e1e1e" stroke="#1e1e1e" stroke-width="0.3">Time, &#956;s</text>
<text x="377.4" y="16.35" font-family="'Liberation Sans', Arial, sans-serif" font-size="9.6" font-weight="bold" fill="#1e1e1e" stroke="#1e1e1e" stroke-width="0.25">(c)</text>
<text x="460.1" y="16.1" text-anchor="middle" font-family="'Liberation Sans', Arial, sans-serif" font-size="10.2" font-weight="bold" fill="#a80e22" stroke="#a80e22" stroke-width="0.15">211 kHz</text>
<text transform="translate(20.2,48.2) rotate(-90)" text-anchor="middle" font-family="'Liberation Sans', Arial, sans-serif" font-size="10.7" fill="#1e1e1e" stroke="#1e1e1e" stroke-width="0.3">Intensity, a.u.</text>
<text x="13.8" y="96.2" font-family="'Liberation Sans', Arial, sans-serif" font-size="9.7" font-weight="bold" fill="#1010f0" stroke="#1010f0" stroke-width="0.3">0</text>
<path d="M20.6 92.9h4.2M23.2 90.6l2.6 2.3-2.6 2.3" stroke="#1010f0" stroke-width="1.7" fill="none"/>
<text x="14.7" y="145.7" font-family="'Liberation Sans', Arial, sans-serif" font-size="9.7" font-weight="bold" fill="#b8102a" stroke="#b8102a" stroke-width="0.3">0</text>
<path d="M21 142.4h4.4M23.8 140.1l2.6 2.3-2.6 2.3" stroke="#b8102a" stroke-width="1.6" fill="none"/>
<polygon points="32.5,285.4 32.5,273.46 34.5,272.81 36.5,273.82 38.5,272.49 40.5,273.51 42.5,273.49 44.5,271.23 46.5,271.27 48.5,267.16 50.5,269.87 52.5,272.24 54.5,272.1 56.5,273.77 58.5,272.15 60.5,272.81 62.5,272.47 64.5,272.96 66.5,272.57 68.5,272.29 70.5,273.59 72.5,273.3 74.5,272.35 76.5,272.14 78.5,273.01 80.5,272.83 82.5,271.71 84.5,274.2 86.5,274.74 88.5,272.34 90.5,272.5 92.5,272.41 94.5,274.19 96.5,272.8 98.5,273.08 100.5,273.07 102.5,272.64 104.5,272.28 106.5,271.23 108.5,274.37 110.5,273.78 112.5,273.95 114.5,271.97 116.5,273.49 118.5,272.8 120.5,272.68 122.5,274.64 124.5,272.23 126.5,272.39 128.5,273.33 130.5,273.31 132.5,273.24 134.5,272.69 136.5,272.82 138.5,272.46 140.5,273.8 142.5,273.57 144.5,272.94 146.5,272.87 148.5,273.47 150.5,272.04 152.5,272.73 154.5,272.42 156.5,272.62 158.5,271.78 160.5,273.22 162.5,273.05 164.5,272.41 166.5,272.56 168.5,273.92 170.5,273.23 172.5,271.93 174.5,269.27 176.5,266.94 178.5,269.55 180.5,272.13 182.5,272.31 184.5,272.39 186.5,273.15 188.5,273.58 189.8,272.27 189.8,285.4" fill="#dca4d8"/>
<path d="M32.7 270.88h0.8V285.4h-0.8zM33.5 281.01h0.8V285.4h-0.8zM34.3 269.61h0.8V285.4h-0.8zM35.1 268.21h0.8V285.4h-0.8zM35.9 269.15h0.8V285.4h-0.8zM36.7 278.43h0.8V285.4h-0.8zM37.5 278.67h0.8V285.4h-0.8zM38.3 271.2h0.8V285.4h-0.8zM39.1 272.25h0.8V285.4h-0.8zM39.9 277.04h0.8V285.4h-0.8zM40.7 273.9h0.8V285.4h-0.8zM41.5 272.91h0.8V285.4h-0.8zM42.3 270.99h0.8V285.4h-0.8zM43.1 275.67h0.8V285.4h-0.8zM43.9 271.97h0.8V285.4h-0.8zM44.7 276.27h0.8V285.4h-0.8zM45.5 268.49h0.8V285.4h-0.8zM46.3 278.56h0.8V285.4h-0.8zM47.1 269.26h0.8V285.4h-0.8zM47.9 273.87h0.8V285.4h-0.8zM48.7 274.89h0.8V285.4h-0.8zM49.5 274.1h0.8V285.4h-0.8zM50.3 270.89h0.8V285.4h-0.8zM51.1 267.14h0.8V285.4h-0.8zM51.9 271.27h0.8V285.4h-0.8zM52.7 270.81h0.8V285.4h-0.8zM53.5 268.7h0.8V285.4h-0.8zM54.3 269.83h0.8V285.4h-0.8zM55.1 276.83h0.8V285.4h-0.8zM55.9 275.59h0.8V285.4h-0.8zM56.7 268.1h0.8V285.4h-0.8zM57.5 277.17h0.8V285.4h-0.8zM58.3 274.68h0.8V285.4h-0.8zM59.1 273.61h0.8V285.4h-0.8zM59.9 271.63h0.8V285.4h-0.8zM60.7 274.23h0.8V285.4h-0.8zM61.5 271.08h0.8V285.4h-0.8zM62.3 271.54h0.8V285.4h-0.8zM63.1 271.45h0.8V285.4h-0.8zM63.9 275.69h0.8V285.4h-0.8zM64.7 273.06h0.8V285.4h-0.8zM65.5 272.74h0.8V285.4h-0.8zM66.3 270.91h0.8V285.4h-0.8zM67.1 270.09h0.8V285.4h-0.8zM67.9 272.45h0.8V285.4h-0.8zM68.7 272.63h0.8V285.4h-0.8zM69.5 275.68h0.8V285.4h-0.8zM70.3 272.51h0.8V285.4h-0.8zM71.1 273.93h0.8V285.4h-0.8zM71.9 277.25h0.8V285.4h-0.8zM72.7 281.01h0.8V285.4h-0.8zM73.5 275.84h0.8V285.4h-0.8zM74.3 268.73h0.8V285.4h-0.8zM75.1 280.66h0.8V285.4h-0.8zM75.9 270.54h0.8V285.4h-0.8zM76.7 276.35h0.8V285.4h-0.8zM77.5 271.74h0.8V285.4h-0.8zM78.3 268.45h0.8V285.4h-0.8zM79.1 277.85h0.8V285.4h-0.8zM79.9 277.28h0.8V285.4h-0.8zM80.7 276.3h0.8V285.4h-0.8zM81.5 270.48h0.8V285.4h-0.8zM82.3 268.69h0.8V285.4h-0.8zM83.1 270.01h0.8V285.4h-0.8zM83.9 279.62h0.8V285.4h-0.8zM84.7 277.39h0.8V285.4h-0.8zM85.5 272.78h0.8V285.4h-0.8zM86.3 275.06h0.8V285.4h-0.8zM87.1 269.59h0.8V285.4h-0.8zM87.9 279.08h0.8V285.4h-0.8zM88.7 276.14h0.8V285.4h-0.8zM89.5 268.38h0.8V285.4h-0.8zM90.3 270.44h0.8V285.4h-0.8zM91.1 273.43h0.8V285.4h-0.8zM91.9 279.18h0.8V285.4h-0.8zM92.7 270.21h0.8V285.4h-0.8zM93.5 271.86h0.8V285.4h-0.8zM94.3 272.49h0.8V285.4h-0.8zM95.1 277.76h0.8V285.4h-0.8zM95.9 276.58h0.8V285.4h-0.8zM96.7 275.18h0.8V285.4h-0.8zM97.5 269.98h0.8V285.4h-0.8zM98.3 270.35h0.8V285.4h-0.8zM99.1 274.17h0.8V285.4h-0.8zM99.9 276.19h0.8V285.4h-0.8zM100.7 270.06h0.8V285.4h-0.8zM101.5 268.33h0.8V285.4h-0.8zM102.3 270.76h0.8V285.4h-0.8zM103.1 269.83h0.8V285.4h-0.8zM103.9 271.97h0.8V285.4h-0.8zM104.7 271.29h0.8V285.4h-0.8zM105.5 274.35h0.8V285.4h-0.8zM106.3 269.39h0.8V285.4h-0.8zM107.1 270.76h0.8V285.4h-0.8zM107.9 272.18h0.8V285.4h-0.8zM108.7 274.03h0.8V285.4h-0.8zM109.5 272.51h0.8V285.4h-0.8zM110.3 271.45h0.8V285.4h-0.8zM111.1 271.77h0.8V285.4h-0.8zM111.9 274.22h0.8V285.4h-0.8zM112.7 279.86h0.8V285.4h-0.8zM113.5 270h0.8V285.4h-0.8zM114.3 274.05h0.8V285.4h-0.8zM115.1 270.59h0.8V285.4h-0.8zM115.9 270.31h0.8V285.4h-0.8zM116.7 276.39h0.8V285.4h-0.8zM117.5 270.57h0.8V285.4h-0.8zM118.3 271.65h0.8V285.4h-0.8zM119.1 275.83h0.8V285.4h-0.8zM119.9 271.4h0.8V285.4h-0.8zM120.7 270.49h0.8V285.4h-0.8zM121.5 280.08h0.8V285.4h-0.8zM122.3 272.3h0.8V285.4h-0.8zM123.1 279.91h0.8V285.4h-0.8zM123.9 275.52h0.8V285.4h-0.8zM124.7 273.26h0.8V285.4h-0.8zM125.5 269.93h0.8V285.4h-0.8zM126.3 269.12h0.8V285.4h-0.8zM127.1 275.32h0.8V285.4h-0.8zM127.9 279.76h0.8V285.4h-0.8zM128.7 270.04h0.8V285.4h-0.8zM129.5 274.18h0.8V285.4h-0.8zM130.3 274.56h0.8V285.4h-0.8zM131.1 272.63h0.8V285.4h-0.8zM131.9 273.17h0.8V285.4h-0.8zM132.7 276.72h0.8V285.4h-0.8zM133.5 270.15h0.8V285.4h-0.8zM134.3 279.91h0.8V285.4h-0.8zM135.1 268.05h0.8V285.4h-0.8zM135.9 278.09h0.8V285.4h-0.8zM136.7 268.7h0.8V285.4h-0.8zM137.5 275.19h0.8V285.4h-0.8zM138.3 278.7h0.8V285.4h-0.8zM139.1 279.7h0.8V285.4h-0.8zM139.9 278.56h0.8V285.4h-0.8zM140.7 274.77h0.8V285.4h-0.8zM141.5 271.43h0.8V285.4h-0.8zM142.3 270.75h0.8V285.4h-0.8zM143.1 277.28h0.8V285.4h-0.8zM143.9 270.74h0.8V285.4h-0.8zM144.7 269.19h0.8V285.4h-0.8zM145.5 270.91h0.8V285.4h-0.8zM146.3 268.27h0.8V285.4h-0.8zM147.1 275.32h0.8V285.4h-0.8zM147.9 272.56h0.8V285.4h-0.8zM148.7 273.86h0.8V285.4h-0.8zM149.5 280.24h0.8V285.4h-0.8zM150.3 276.94h0.8V285.4h-0.8zM151.1 280.65h0.8V285.4h-0.8zM151.9 277.12h0.8V285.4h-0.8zM152.7 269.79h0.8V285.4h-0.8zM153.5 267.7h0.8V285.4h-0.8zM154.3 279.42h0.8V285.4h-0.8zM155.1 279.41h0.8V285.4h-0.8zM155.9 269.77h0.8V285.4h-0.8zM156.7 268.43h0.8V285.4h-0.8zM157.5 268.99h0.8V285.4h-0.8zM158.3 270.61h0.8V285.4h-0.8zM159.1 270.22h0.8V285.4h-0.8zM159.9 270.64h0.8V285.4h-0.8zM160.7 271.66h0.8V285.4h-0.8zM161.5 278.85h0.8V285.4h-0.8zM162.3 279.35h0.8V285.4h-0.8zM163.1 271.63h0.8V285.4h-0.8zM163.9 273.79h0.8V285.4h-0.8zM164.7 274.63h0.8V285.4h-0.8zM165.5 269.57h0.8V285.4h-0.8zM166.3 277.05h0.8V285.4h-0.8zM167.1 277.4h0.8V285.4h-0.8zM167.9 269.65h0.8V285.4h-0.8zM168.7 276.67h0.8V285.4h-0.8zM169.5 274.42h0.8V285.4h-0.8zM170.3 273.05h0.8V285.4h-0.8zM171.1 273.67h0.8V285.4h-0.8zM171.9 277.44h0.8V285.4h-0.8zM172.7 277.03h0.8V285.4h-0.8zM173.5 266.31h0.8V285.4h-0.8zM174.3 271.35h0.8V285.4h-0.8zM175.1 266.1h0.8V285.4h-0.8zM175.9 269.47h0.8V285.4h-0.8zM176.7 268.72h0.8V285.4h-0.8zM177.5 265.02h0.8V285.4h-0.8zM178.3 268.19h0.8V285.4h-0.8zM179.1 265.58h0.8V285.4h-0.8zM179.9 275.1h0.8V285.4h-0.8zM180.7 269.81h0.8V285.4h-0.8zM181.5 273.61h0.8V285.4h-0.8zM182.3 277.56h0.8V285.4h-0.8zM183.1 274.57h0.8V285.4h-0.8zM183.9 275.56h0.8V285.4h-0.8zM184.7 273.8h0.8V285.4h-0.8zM185.5 267.35h0.8V285.4h-0.8zM186.3 269.21h0.8V285.4h-0.8zM187.1 273.02h0.8V285.4h-0.8zM187.9 272.07h0.8V285.4h-0.8zM188.7 274.81h0.8V285.4h-0.8zM189.5 273.18h0.3V285.4h-0.3z" fill="#98008e"/>
<rect x="32.5" y="279.27" width="157.3" height="6.12" fill="#98008e"/>
<polygon points="46.75,284.9 46.4,265 46.65,252 47.65,216 48.3,196 48.3,192 48.3,196 48.8,216 49.65,252 49.9,265 49.65,284.9" fill="#fff"/>
<polyline points="45.7,267.5 45.85,265 46.1,252 47.1,216 47.75,196 48.3,184 48.85,196 49.35,216 50.2,252 50.45,265 50.65,267.5" fill="none" stroke="#cc66c8" stroke-width="1.05" stroke-linejoin="round"/>
<line x1="48.3" y1="184.3" x2="48.3" y2="196" stroke="#9c189c" stroke-width="0.9"/>
<rect x="32.5" y="178.6" width="157.3" height="106.8" fill="none" stroke="#505050" stroke-width="1.1"/>
<path d="M32.5 180.4h-1.6M32.5 197.9h-1.6M32.5 215.4h-1.6M32.5 232.9h-1.6M32.5 250.4h-1.6M32.5 267.9h-1.6M32.5 285.4h-1.6M35.53 285.4v1.6M72.43 285.4v1.6M109.34 285.4v1.6M146.25 285.4v1.6M183.16 285.4v1.6" stroke="#666" stroke-width="0.9" fill="none"/>
<g font-family="'Liberation Sans', Arial, sans-serif" font-size="10.3" fill="#1e1e1e" stroke="#1e1e1e" stroke-width="0.3"><text x="36.43" y="297.6" text-anchor="middle">1.05</text><text x="73.33" y="297.6" text-anchor="middle">1.1</text><text x="110.24" y="297.6" text-anchor="middle">1.15</text><text x="147.15" y="297.6" text-anchor="middle">1.2</text><text x="184.06" y="297.6" text-anchor="middle">1.25</text></g>
<text x="111.15" y="309.9" text-anchor="middle" font-family="'Liberation Sans', Arial, sans-serif" font-size="10.3" fill="#1e1e1e" stroke="#1e1e1e" stroke-width="0.3">Wavelength, &#956;m</text>
<text x="31.6" y="174.2" font-family="'Liberation Sans', Arial, sans-serif" font-size="9.2" font-weight="bold" fill="#1e1e1e" stroke="#1e1e1e" stroke-width="0.25">(d)</text>
<polygon points="207,285.4 207,267.99 209,268.23 211,267.8 213,268.68 215,267.44 217,267.89 219,267.99 221,266.08 223,264.47 225,267.98 227,268.13 229,269.62 231,269.54 233,269.46 235,268.46 237,270.32 239,270.63 241,270.01 243,270.41 245,271.83 247,268.96 249,269.9 251,271.14 253,270.16 255,269.09 257,268.93 259,268.46 261,267.73 263,267.31 265,267.65 267,268.74 269,269.16 271,270.89 273,271.11 275,270.26 277,270.69 279,270.25 281,270.91 283,270.78 285,270.44 287,271.88 289,271.18 291,269.96 293,270.35 295,271.08 297,270.2 299,269.24 301,269.47 303,271.18 305,270.77 307,271.65 309,270.78 311,271.26 313,270.93 315,270.18 317,270.57 319,270.58 321,271.42 323,269.76 325,270.58 327,271.31 329,270.35 331,269.62 333,271.29 335,270.08 337,271.23 339,269.78 341,269.95 343,270.54 345,271.04 347,270.45 349,268.96 351,265.35 353,267.39 355,269.14 357,270.19 359,270.46 361,270.02 363,271.98 364.3,269.65 364.3,285.4" fill="#dca4d8"/>
<path d="M207.2 264.95h0.8V285.4h-0.8zM208 265.2h0.8V285.4h-0.8zM208.8 268.47h0.8V285.4h-0.8zM209.6 269.35h0.8V285.4h-0.8zM210.4 268.13h0.8V285.4h-0.8zM211.2 264.62h0.8V285.4h-0.8zM212 268.16h0.8V285.4h-0.8zM212.8 267.44h0.8V285.4h-0.8zM213.6 271h0.8V285.4h-0.8zM214.4 266.31h0.8V285.4h-0.8zM215.2 265.17h0.8V285.4h-0.8zM216 267.72h0.8V285.4h-0.8zM216.8 265.08h0.8V285.4h-0.8zM217.6 265.47h0.8V285.4h-0.8zM218.4 270.99h0.8V285.4h-0.8zM219.2 263.6h0.8V285.4h-0.8zM220 267.04h0.8V285.4h-0.8zM220.8 263.04h0.8V285.4h-0.8zM221.6 266.25h0.8V285.4h-0.8zM222.4 260.87h0.8V285.4h-0.8zM223.2 262.59h0.8V285.4h-0.8zM224 261.54h0.8V285.4h-0.8zM224.8 268.47h0.8V285.4h-0.8zM225.6 268.16h0.8V285.4h-0.8zM226.4 266.83h0.8V285.4h-0.8zM227.2 268.74h0.8V285.4h-0.8zM228 268.79h0.8V285.4h-0.8zM228.8 267.82h0.8V285.4h-0.8zM229.6 268.32h0.8V285.4h-0.8zM230.4 267.46h0.8V285.4h-0.8zM231.2 269.64h0.8V285.4h-0.8zM232 268.23h0.8V285.4h-0.8zM232.8 266.74h0.8V285.4h-0.8zM233.6 270.81h0.8V285.4h-0.8zM234.4 266.08h0.8V285.4h-0.8zM235.2 268.85h0.8V285.4h-0.8zM236 271.57h0.8V285.4h-0.8zM236.8 269.44h0.8V285.4h-0.8zM237.6 270.83h0.8V285.4h-0.8zM238.4 265.44h0.8V285.4h-0.8zM239.2 269.78h0.8V285.4h-0.8zM240 267.85h0.8V285.4h-0.8zM240.8 267.86h0.8V285.4h-0.8zM241.6 266.24h0.8V285.4h-0.8zM242.4 266.52h0.8V285.4h-0.8zM243.2 269.11h0.8V285.4h-0.8zM244 270.81h0.8V285.4h-0.8zM244.8 270.98h0.8V285.4h-0.8zM245.6 271.3h0.8V285.4h-0.8zM246.4 269.64h0.8V285.4h-0.8zM247.2 270.56h0.8V285.4h-0.8zM248 270.27h0.8V285.4h-0.8zM248.8 270.56h0.8V285.4h-0.8zM249.6 267.85h0.8V285.4h-0.8zM250.4 267.27h0.8V285.4h-0.8zM251.2 268.32h0.8V285.4h-0.8zM252 267.52h0.8V285.4h-0.8zM252.8 269.53h0.8V285.4h-0.8zM253.6 267.85h0.8V285.4h-0.8zM254.4 269.51h0.8V285.4h-0.8zM255.2 267.97h0.8V285.4h-0.8zM256 268.46h0.8V285.4h-0.8zM256.8 266.09h0.8V285.4h-0.8zM257.6 269.11h0.8V285.4h-0.8zM258.4 266.17h0.8V285.4h-0.8zM259.2 268.85h0.8V285.4h-0.8zM260 270.58h0.8V285.4h-0.8zM260.8 271.03h0.8V285.4h-0.8zM261.6 265.4h0.8V285.4h-0.8zM262.4 268.45h0.8V285.4h-0.8zM263.2 265.89h0.8V285.4h-0.8zM264 267.93h0.8V285.4h-0.8zM264.8 267.8h0.8V285.4h-0.8zM265.6 266.51h0.8V285.4h-0.8zM266.4 267.62h0.8V285.4h-0.8zM267.2 268.54h0.8V285.4h-0.8zM268 269.07h0.8V285.4h-0.8zM268.8 266.48h0.8V285.4h-0.8zM269.6 270.15h0.8V285.4h-0.8zM270.4 270.73h0.8V285.4h-0.8zM271.2 267.72h0.8V285.4h-0.8zM272 268.15h0.8V285.4h-0.8zM272.8 271.07h0.8V285.4h-0.8zM273.6 266.56h0.8V285.4h-0.8zM274.4 271.48h0.8V285.4h-0.8zM275.2 267.14h0.8V285.4h-0.8zM276 267.74h0.8V285.4h-0.8zM276.8 266.77h0.8V285.4h-0.8zM277.6 271.31h0.8V285.4h-0.8zM278.4 270.82h0.8V285.4h-0.8zM279.2 270.87h0.8V285.4h-0.8zM280 270.79h0.8V285.4h-0.8zM280.8 269.72h0.8V285.4h-0.8zM281.6 270.41h0.8V285.4h-0.8zM282.4 269.41h0.8V285.4h-0.8zM283.2 268.76h0.8V285.4h-0.8zM284 267.72h0.8V285.4h-0.8zM284.8 270.16h0.8V285.4h-0.8zM285.6 271.33h0.8V285.4h-0.8zM286.4 270.37h0.8V285.4h-0.8zM287.2 268.43h0.8V285.4h-0.8zM288 267.03h0.8V285.4h-0.8zM288.8 269.61h0.8V285.4h-0.8zM289.6 269.98h0.8V285.4h-0.8zM290.4 267.56h0.8V285.4h-0.8zM291.2 270.74h0.8V285.4h-0.8zM292 270.38h0.8V285.4h-0.8zM292.8 267.95h0.8V285.4h-0.8zM293.6 270.15h0.8V285.4h-0.8zM294.4 273.34h0.8V285.4h-0.8zM295.2 269.43h0.8V285.4h-0.8zM296 268.52h0.8V285.4h-0.8zM296.8 268.65h0.8V285.4h-0.8zM297.6 266.48h0.8V285.4h-0.8zM298.4 268.03h0.8V285.4h-0.8zM299.2 272.19h0.8V285.4h-0.8zM300 269.49h0.8V285.4h-0.8zM300.8 268.22h0.8V285.4h-0.8zM301.6 269.65h0.8V285.4h-0.8zM302.4 268.84h0.8V285.4h-0.8zM303.2 271.12h0.8V285.4h-0.8zM304 271.17h0.8V285.4h-0.8zM304.8 269.22h0.8V285.4h-0.8zM305.6 269.27h0.8V285.4h-0.8zM306.4 272.68h0.8V285.4h-0.8zM307.2 274.06h0.8V285.4h-0.8zM308 266.56h0.8V285.4h-0.8zM308.8 269.35h0.8V285.4h-0.8zM309.6 267.93h0.8V285.4h-0.8zM310.4 269.59h0.8V285.4h-0.8zM311.2 270.49h0.8V285.4h-0.8zM312 269h0.8V285.4h-0.8zM312.8 267.06h0.8V285.4h-0.8zM313.6 269.53h0.8V285.4h-0.8zM314.4 270.14h0.8V285.4h-0.8zM315.2 270.89h0.8V285.4h-0.8zM316 269.46h0.8V285.4h-0.8zM316.8 274.26h0.8V285.4h-0.8zM317.6 266.86h0.8V285.4h-0.8zM318.4 265.44h0.8V285.4h-0.8zM319.2 271.44h0.8V285.4h-0.8zM320 267.02h0.8V285.4h-0.8zM320.8 271.86h0.8V285.4h-0.8zM321.6 270.81h0.8V285.4h-0.8zM322.4 270.05h0.8V285.4h-0.8zM323.2 267.12h0.8V285.4h-0.8zM324 270.81h0.8V285.4h-0.8zM324.8 271.39h0.8V285.4h-0.8zM325.6 267.25h0.8V285.4h-0.8zM326.4 268.07h0.8V285.4h-0.8zM327.2 267.19h0.8V285.4h-0.8zM328 270.08h0.8V285.4h-0.8zM328.8 271.4h0.8V285.4h-0.8zM329.6 270.73h0.8V285.4h-0.8zM330.4 266.94h0.8V285.4h-0.8zM331.2 271.68h0.8V285.4h-0.8zM332 269.61h0.8V285.4h-0.8zM332.8 269.85h0.8V285.4h-0.8zM333.6 268.7h0.8V285.4h-0.8zM334.4 271.73h0.8V285.4h-0.8zM335.2 269.31h0.8V285.4h-0.8zM336 269.06h0.8V285.4h-0.8zM336.8 268.13h0.8V285.4h-0.8zM337.6 270.41h0.8V285.4h-0.8zM338.4 266.32h0.8V285.4h-0.8zM339.2 271.29h0.8V285.4h-0.8zM340 270.04h0.8V285.4h-0.8zM340.8 270.59h0.8V285.4h-0.8zM341.6 269.15h0.8V285.4h-0.8zM342.4 267.82h0.8V285.4h-0.8zM343.2 267.44h0.8V285.4h-0.8zM344 270.14h0.8V285.4h-0.8zM344.8 269.11h0.8V285.4h-0.8zM345.6 266.83h0.8V285.4h-0.8zM346.4 266.35h0.8V285.4h-0.8zM347.2 267.11h0.8V285.4h-0.8zM348 269.98h0.8V285.4h-0.8zM348.8 267.01h0.8V285.4h-0.8zM349.6 266.07h0.8V285.4h-0.8zM350.4 261.43h0.8V285.4h-0.8zM351.2 265.64h0.8V285.4h-0.8zM352 263.27h0.8V285.4h-0.8zM352.8 264.87h0.8V285.4h-0.8zM353.6 272.03h0.8V285.4h-0.8zM354.4 270.24h0.8V285.4h-0.8zM355.2 268.01h0.8V285.4h-0.8zM356 267.04h0.8V285.4h-0.8zM356.8 266.84h0.8V285.4h-0.8zM357.6 270.06h0.8V285.4h-0.8zM358.4 268.82h0.8V285.4h-0.8zM359.2 274.63h0.8V285.4h-0.8zM360 268.94h0.8V285.4h-0.8zM360.8 268.69h0.8V285.4h-0.8zM361.6 272.69h0.8V285.4h-0.8zM362.4 269.74h0.8V285.4h-0.8zM363.2 270.23h0.8V285.4h-0.8zM364 270.11h0.3V285.4h-0.3z" fill="#98008e"/>
<rect x="207" y="273.5" width="157.3" height="11.9" fill="#98008e"/>
<polygon points="221.05,284.9 220.7,265 220.95,252 221.95,216 222.6,196 222.6,191.3 222.6,196 223.1,216 223.95,252 224.2,265 223.95,284.9" fill="#fff"/>
<polyline points="220,267.5 220.15,265 220.4,252 221.4,216 222.05,196 222.6,183.3 223.15,196 223.65,216 224.5,252 224.75,265 224.95,267.5" fill="none" stroke="#cc66c8" stroke-width="1.05" stroke-linejoin="round"/>
<line x1="222.6" y1="183.6" x2="222.6" y2="196" stroke="#9c189c" stroke-width="0.9"/>
<polygon points="349.85,284.9 349.5,265 349.75,252 350.75,216 351.4,196 351.4,191.3 351.4,196 351.9,216 352.75,252 353,265 352.75,284.9" fill="#fff"/>
<polyline points="348.8,267.5 348.95,265 349.2,252 350.2,216 350.85,196 351.4,183.3 351.95,196 352.45,216 353.3,252 353.55,265 353.75,267.5" fill="none" stroke="#cc66c8" stroke-width="1.05" stroke-linejoin="round"/>
<line x1="351.4" y1="183.6" x2="351.4" y2="196" stroke="#9c189c" stroke-width="0.9"/>
<rect x="207" y="178.6" width="157.3" height="106.8" fill="none" stroke="#505050" stroke-width="1.1"/>
<path d="M207 180.4h-1.6M207 197.9h-1.6M207 215.4h-1.6M207 232.9h-1.6M207 250.4h-1.6M207 267.9h-1.6M207 285.4h-1.6M210.03 285.4v1.6M246.93 285.4v1.6M283.84 285.4v1.6M320.75 285.4v1.6M357.66 285.4v1.6" stroke="#666" stroke-width="0.9" fill="none"/>
<g font-family="'Liberation Sans', Arial, sans-serif" font-size="10.3" fill="#1e1e1e" stroke="#1e1e1e" stroke-width="0.3"><text x="210.93" y="297.6" text-anchor="middle">1.05</text><text x="247.83" y="297.6" text-anchor="middle">1.1</text><text x="284.74" y="297.6" text-anchor="middle">1.15</text><text x="321.65" y="297.6" text-anchor="middle">1.2</text><text x="358.56" y="297.6" text-anchor="middle">1.25</text></g>
<text x="285.65" y="309.9" text-anchor="middle" font-family="'Liberation Sans', Arial, sans-serif" font-size="10.3" fill="#1e1e1e" stroke="#1e1e1e" stroke-width="0.3">Wavelength, &#956;m</text>
<text x="206.1" y="174.2" font-family="'Liberation Sans', Arial, sans-serif" font-size="9.2" font-weight="bold" fill="#1e1e1e" stroke="#1e1e1e" stroke-width="0.25">(e)</text>
<polygon points="382.3,285.4 382.3,270.07 384.3,269.52 386.3,270.56 388.3,271.08 390.3,270.53 392.3,270.4 394.3,270.81 396.3,267.28 398.3,265.1 400.3,269.63 402.3,268.89 404.3,270.69 406.3,271.3 408.3,272.03 410.3,270.81 412.3,271.07 414.3,270.33 416.3,270.12 418.3,270.07 420.3,271.44 422.3,271.33 424.3,270.16 426.3,271.03 428.3,271.38 430.3,271.29 432.3,270.57 434.3,270.48 436.3,270.49 438.3,270.8 440.3,270.6 442.3,270.39 444.3,270.23 446.3,269.94 448.3,270.96 450.3,270.99 452.3,270.87 454.3,270.61 456.3,271.27 458.3,269.76 460.3,271.62 462.3,270.76 464.3,271.3 466.3,271.35 468.3,270.95 470.3,269.84 472.3,271.63 474.3,271.58 476.3,271.6 478.3,271.75 480.3,269.95 482.3,272.02 484.3,270.91 486.3,270.74 488.3,270.66 490.3,270.01 492.3,270.66 494.3,271.42 496.3,271.18 498.3,270.67 500.3,271.45 502.3,271.4 504.3,270.84 506.3,271.23 508.3,269.72 510.3,271.26 512.3,270.68 514.3,271.66 516.3,271.02 518.3,270.77 520.3,271.24 522.3,270.57 524.3,269.07 526.3,265.19 528.3,267.89 530.3,269.99 532.3,270.22 534.3,271.17 536.3,270.52 538.3,270.85 539.6,270.35 539.6,285.4" fill="#dca4d8"/>
<path d="M382.5 275.59h0.8V285.4h-0.8zM383.3 270.1h0.8V285.4h-0.8zM384.1 267.82h0.8V285.4h-0.8zM384.9 269.99h0.8V285.4h-0.8zM385.7 270.65h0.8V285.4h-0.8zM386.5 272.67h0.8V285.4h-0.8zM387.3 270.78h0.8V285.4h-0.8zM388.1 266.79h0.8V285.4h-0.8zM388.9 268.75h0.8V285.4h-0.8zM389.7 270.9h0.8V285.4h-0.8zM390.5 267.86h0.8V285.4h-0.8zM391.3 268.35h0.8V285.4h-0.8zM392.1 271.34h0.8V285.4h-0.8zM392.9 267.61h0.8V285.4h-0.8zM393.7 266.65h0.8V285.4h-0.8zM394.5 266.78h0.8V285.4h-0.8zM395.3 266.67h0.8V285.4h-0.8zM396.1 269.74h0.8V285.4h-0.8zM396.9 264.14h0.8V285.4h-0.8zM397.7 262.74h0.8V285.4h-0.8zM398.5 263.62h0.8V285.4h-0.8zM399.3 266.73h0.8V285.4h-0.8zM400.1 268.4h0.8V285.4h-0.8zM400.9 270.53h0.8V285.4h-0.8zM401.7 265.24h0.8V285.4h-0.8zM402.5 267.65h0.8V285.4h-0.8zM403.3 269.91h0.8V285.4h-0.8zM404.1 268.28h0.8V285.4h-0.8zM404.9 269.65h0.8V285.4h-0.8zM405.7 268.86h0.8V285.4h-0.8zM406.5 268.83h0.8V285.4h-0.8zM407.3 269.31h0.8V285.4h-0.8zM408.1 272.11h0.8V285.4h-0.8zM408.9 270.72h0.8V285.4h-0.8zM409.7 270.89h0.8V285.4h-0.8zM410.5 270h0.8V285.4h-0.8zM411.3 272.5h0.8V285.4h-0.8zM412.1 268.83h0.8V285.4h-0.8zM412.9 270.05h0.8V285.4h-0.8zM413.7 269.02h0.8V285.4h-0.8zM414.5 273.29h0.8V285.4h-0.8zM415.3 268.14h0.8V285.4h-0.8zM416.1 269.91h0.8V285.4h-0.8zM416.9 268.3h0.8V285.4h-0.8zM417.7 270.37h0.8V285.4h-0.8zM418.5 269.89h0.8V285.4h-0.8zM419.3 269.58h0.8V285.4h-0.8zM420.1 270.11h0.8V285.4h-0.8zM420.9 271.83h0.8V285.4h-0.8zM421.7 267.9h0.8V285.4h-0.8zM422.5 267.92h0.8V285.4h-0.8zM423.3 268h0.8V285.4h-0.8zM424.1 268.03h0.8V285.4h-0.8zM424.9 268.39h0.8V285.4h-0.8zM425.7 269.23h0.8V285.4h-0.8zM426.5 270.29h0.8V285.4h-0.8zM427.3 272.45h0.8V285.4h-0.8zM428.1 270.54h0.8V285.4h-0.8zM428.9 267.81h0.8V285.4h-0.8zM429.7 267.08h0.8V285.4h-0.8zM430.5 269.43h0.8V285.4h-0.8zM431.3 269.35h0.8V285.4h-0.8zM432.1 275.02h0.8V285.4h-0.8zM432.9 272.11h0.8V285.4h-0.8zM433.7 269.97h0.8V285.4h-0.8zM434.5 267.81h0.8V285.4h-0.8zM435.3 275.4h0.8V285.4h-0.8zM436.1 270.09h0.8V285.4h-0.8zM436.9 268.08h0.8V285.4h-0.8zM437.7 267.76h0.8V285.4h-0.8zM438.5 268.3h0.8V285.4h-0.8zM439.3 267h0.8V285.4h-0.8zM440.1 272.45h0.8V285.4h-0.8zM440.9 272.09h0.8V285.4h-0.8zM441.7 272.3h0.8V285.4h-0.8zM442.5 266.64h0.8V285.4h-0.8zM443.3 270.57h0.8V285.4h-0.8zM444.1 270.59h0.8V285.4h-0.8zM444.9 267.47h0.8V285.4h-0.8zM445.7 269.44h0.8V285.4h-0.8zM446.5 271.13h0.8V285.4h-0.8zM447.3 267.73h0.8V285.4h-0.8zM448.1 269.09h0.8V285.4h-0.8zM448.9 269.2h0.8V285.4h-0.8zM449.7 274.15h0.8V285.4h-0.8zM450.5 270.04h0.8V285.4h-0.8zM451.3 268.5h0.8V285.4h-0.8zM452.1 268.18h0.8V285.4h-0.8zM452.9 268.13h0.8V285.4h-0.8zM453.7 268.76h0.8V285.4h-0.8zM454.5 268.33h0.8V285.4h-0.8zM455.3 271.53h0.8V285.4h-0.8zM456.1 269.19h0.8V285.4h-0.8zM456.9 271.12h0.8V285.4h-0.8zM457.7 269.35h0.8V285.4h-0.8zM458.5 271.14h0.8V285.4h-0.8zM459.3 268.74h0.8V285.4h-0.8zM460.1 268.03h0.8V285.4h-0.8zM460.9 268.91h0.8V285.4h-0.8zM461.7 268.86h0.8V285.4h-0.8zM462.5 270.49h0.8V285.4h-0.8zM463.3 269.63h0.8V285.4h-0.8zM464.1 273.5h0.8V285.4h-0.8zM464.9 270.27h0.8V285.4h-0.8zM465.7 268.73h0.8V285.4h-0.8zM466.5 271.06h0.8V285.4h-0.8zM467.3 269.64h0.8V285.4h-0.8zM468.1 270.13h0.8V285.4h-0.8zM468.9 268.04h0.8V285.4h-0.8zM469.7 274.82h0.8V285.4h-0.8zM470.5 269.28h0.8V285.4h-0.8zM471.3 271.55h0.8V285.4h-0.8zM472.1 272.12h0.8V285.4h-0.8zM472.9 267.94h0.8V285.4h-0.8zM473.7 271.91h0.8V285.4h-0.8zM474.5 271.16h0.8V285.4h-0.8zM475.3 271.81h0.8V285.4h-0.8zM476.1 270.18h0.8V285.4h-0.8zM476.9 269.84h0.8V285.4h-0.8zM477.7 271.47h0.8V285.4h-0.8zM478.5 267.44h0.8V285.4h-0.8zM479.3 269.09h0.8V285.4h-0.8zM480.1 272.27h0.8V285.4h-0.8zM480.9 270.89h0.8V285.4h-0.8zM481.7 270.4h0.8V285.4h-0.8zM482.5 268.34h0.8V285.4h-0.8zM483.3 269.75h0.8V285.4h-0.8zM484.1 269.13h0.8V285.4h-0.8zM484.9 272.2h0.8V285.4h-0.8zM485.7 269.4h0.8V285.4h-0.8zM486.5 268.54h0.8V285.4h-0.8zM487.3 270.01h0.8V285.4h-0.8zM488.1 269.41h0.8V285.4h-0.8zM488.9 270.73h0.8V285.4h-0.8zM489.7 272.17h0.8V285.4h-0.8zM490.5 273.23h0.8V285.4h-0.8zM491.3 268.64h0.8V285.4h-0.8zM492.1 268.86h0.8V285.4h-0.8zM492.9 271.14h0.8V285.4h-0.8zM493.7 271.33h0.8V285.4h-0.8zM494.5 274.16h0.8V285.4h-0.8zM495.3 268.74h0.8V285.4h-0.8zM496.1 270.92h0.8V285.4h-0.8zM496.9 269.58h0.8V285.4h-0.8zM497.7 274.64h0.8V285.4h-0.8zM498.5 269.32h0.8V285.4h-0.8zM499.3 269.52h0.8V285.4h-0.8zM500.1 268.02h0.8V285.4h-0.8zM500.9 266.8h0.8V285.4h-0.8zM501.7 270.63h0.8V285.4h-0.8zM502.5 271.26h0.8V285.4h-0.8zM503.3 271.24h0.8V285.4h-0.8zM504.1 268.52h0.8V285.4h-0.8zM504.9 269.36h0.8V285.4h-0.8zM505.7 275.08h0.8V285.4h-0.8zM506.5 267.06h0.8V285.4h-0.8zM507.3 272.12h0.8V285.4h-0.8zM508.1 275.27h0.8V285.4h-0.8zM508.9 267.35h0.8V285.4h-0.8zM509.7 269.09h0.8V285.4h-0.8zM510.5 267.56h0.8V285.4h-0.8zM511.3 268.16h0.8V285.4h-0.8zM512.1 270.81h0.8V285.4h-0.8zM512.9 274.52h0.8V285.4h-0.8zM513.7 267.43h0.8V285.4h-0.8zM514.5 268.56h0.8V285.4h-0.8zM515.3 269.84h0.8V285.4h-0.8zM516.1 269.65h0.8V285.4h-0.8zM516.9 271.47h0.8V285.4h-0.8zM517.7 270.38h0.8V285.4h-0.8zM518.5 269.55h0.8V285.4h-0.8zM519.3 271.31h0.8V285.4h-0.8zM520.1 274.33h0.8V285.4h-0.8zM520.9 269.02h0.8V285.4h-0.8zM521.7 267.69h0.8V285.4h-0.8zM522.5 266.98h0.8V285.4h-0.8zM523.3 267.35h0.8V285.4h-0.8zM524.1 269.82h0.8V285.4h-0.8zM524.9 266.99h0.8V285.4h-0.8zM525.7 263.32h0.8V285.4h-0.8zM526.5 265.56h0.8V285.4h-0.8zM527.3 265.74h0.8V285.4h-0.8zM528.1 264.7h0.8V285.4h-0.8zM528.9 268.69h0.8V285.4h-0.8zM529.7 266.77h0.8V285.4h-0.8zM530.5 268.34h0.8V285.4h-0.8zM531.3 271.19h0.8V285.4h-0.8zM532.1 273.85h0.8V285.4h-0.8zM532.9 270.5h0.8V285.4h-0.8zM533.7 268.54h0.8V285.4h-0.8zM534.5 275.17h0.8V285.4h-0.8zM535.3 267.22h0.8V285.4h-0.8zM536.1 269.92h0.8V285.4h-0.8zM536.9 272.51h0.8V285.4h-0.8zM537.7 268.03h0.8V285.4h-0.8zM538.5 269.02h0.8V285.4h-0.8zM539.3 270.44h0.3V285.4h-0.3z" fill="#98008e"/>
<rect x="382.3" y="274.2" width="157.3" height="11.2" fill="#98008e"/>
<polygon points="396.55,284.9 396.2,265 396.45,252 397.45,216 398.1,196 398.1,192.2 398.1,196 398.6,216 399.45,252 399.7,265 399.45,284.9" fill="#fff"/>
<polyline points="395.5,267.5 395.65,265 395.9,252 396.9,216 397.55,196 398.1,184.2 398.65,196 399.15,216 400,252 400.25,265 400.45,267.5" fill="none" stroke="#cc66c8" stroke-width="1.05" stroke-linejoin="round"/>
<line x1="398.1" y1="184.5" x2="398.1" y2="196" stroke="#9c189c" stroke-width="0.9"/>
<rect x="382.3" y="178.6" width="157.3" height="106.8" fill="none" stroke="#505050" stroke-width="1.1"/>
<path d="M382.3 180.4h-1.6M382.3 197.9h-1.6M382.3 215.4h-1.6M382.3 232.9h-1.6M382.3 250.4h-1.6M382.3 267.9h-1.6M382.3 285.4h-1.6M385.33 285.4v1.6M422.23 285.4v1.6M459.14 285.4v1.6M496.05 285.4v1.6M532.96 285.4v1.6" stroke="#666" stroke-width="0.9" fill="none"/>
<g font-family="'Liberation Sans', Arial, sans-serif" font-size="10.3" fill="#1e1e1e" stroke="#1e1e1e" stroke-width="0.3"><text x="386.23" y="297.6" text-anchor="middle">1.05</text><text x="423.13" y="297.6" text-anchor="middle">1.1</text><text x="460.04" y="297.6" text-anchor="middle">1.15</text><text x="496.95" y="297.6" text-anchor="middle">1.2</text><text x="533.86" y="297.6" text-anchor="middle">1.25</text></g>
<text x="460.95" y="309.9" text-anchor="middle" font-family="'Liberation Sans', Arial, sans-serif" font-size="10.3" fill="#1e1e1e" stroke="#1e1e1e" stroke-width="0.3">Wavelength, &#956;m</text>
<text x="381.4" y="174.2" font-family="'Liberation Sans', Arial, sans-serif" font-size="9.2" font-weight="bold" fill="#1e1e1e" stroke="#1e1e1e" stroke-width="0.25">(f)</text>
<g font-family="'Liberation Sans', Arial, sans-serif" font-size="9.5" fill="#1e1e1e" stroke="#1e1e1e" stroke-width="0.3"><text x="29.6" y="183.6" text-anchor="end">-10</text><text x="29.6" y="201.1" text-anchor="end">-20</text><text x="29.6" y="218.6" text-anchor="end">-30</text><text x="29.6" y="236.1" text-anchor="end">-40</text><text x="29.6" y="253.6" text-anchor="end">-50</text><text x="29.6" y="271.1" text-anchor="end">-60</text><text x="29.6" y="288.6" text-anchor="end">-70</text></g>
<text transform="translate(12.4,230) rotate(-90)" text-anchor="middle" font-family="'Liberation Sans', Arial, sans-serif" font-size="10.0" fill="#1e1e1e" stroke="#1e1e1e" stroke-width="0.3">Intensity, dBm</text>
</svg>
</body></html>
